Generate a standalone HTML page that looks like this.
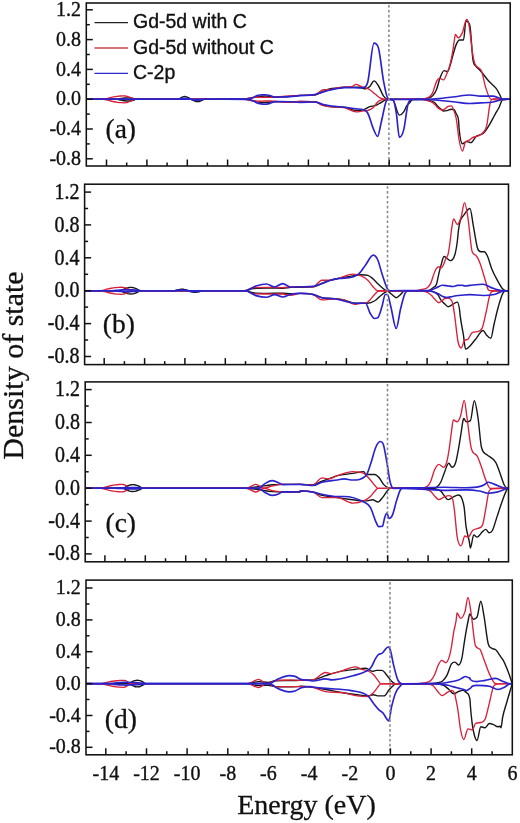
<!DOCTYPE html>
<html><head><meta charset="utf-8"><title>DOS</title>
<style>
html,body{margin:0;padding:0;background:#fff;}
svg{display:block;}
.tk{font-family:"Liberation Serif",serif;font-size:20px;fill:#111;stroke:#111;stroke-width:0.35px;}
.pl{font-family:"Liberation Serif",serif;font-size:27.5px;fill:#111;stroke:#111;stroke-width:0.3px;}
.ax{font-family:"Liberation Serif",serif;font-size:28px;fill:#111;stroke:#111;stroke-width:0.3px;}
.ax2{font-family:"Liberation Serif",serif;font-size:30px;fill:#111;stroke:#111;stroke-width:0.3px;}
.lg{font-family:"Liberation Sans",sans-serif;font-size:19.5px;fill:#111;stroke:#111;stroke-width:0.35px;}
</style></head><body>
<svg width="520" height="823" viewBox="0 0 520 823">
<path d="M86.30,99.20 C89.20,99.20 92.10,99.20 95.00,99.20 C102.33,99.20 109.67,99.20 117.00,99.20 C117.64,99.20 118.28,98.97 118.92,98.86 C119.56,98.75 120.19,98.65 120.83,98.55 C121.47,98.45 122.11,98.36 122.75,98.28 C123.39,98.20 124.03,98.13 124.67,98.07 C125.31,98.01 125.94,97.97 126.58,97.94 C127.22,97.91 127.86,97.90 128.50,97.90 C128.92,97.90 129.33,97.91 129.75,97.94 C130.17,97.97 130.58,98.01 131.00,98.07 C131.42,98.13 131.83,98.20 132.25,98.28 C132.67,98.36 133.08,98.45 133.50,98.55 C133.92,98.65 134.33,98.75 134.75,98.86 C135.17,98.97 135.58,99.20 136.00,99.20 C149.33,99.20 162.67,99.20 176.00,99.20 C177.00,99.20 178.00,99.20 179.00,99.20 C179.31,99.20 179.62,98.72 179.93,98.50 C180.24,98.27 180.56,98.05 180.87,97.85 C181.18,97.65 181.49,97.46 181.80,97.29 C182.11,97.13 182.42,96.98 182.73,96.86 C183.04,96.74 183.36,96.65 183.67,96.59 C183.98,96.53 184.29,96.50 184.60,96.50 C184.96,96.50 185.31,96.53 185.67,96.59 C186.02,96.65 186.38,96.74 186.73,96.86 C187.09,96.98 187.44,97.12 187.80,97.29 C188.16,97.45 188.51,97.65 188.87,97.85 C189.22,98.05 189.58,98.28 189.93,98.50 C190.29,98.73 190.64,99.20 191.00,99.20 C196.00,99.20 201.00,99.20 206.00,99.20 C219.00,99.20 232.00,99.20 245.00,99.00 C247.33,98.96 249.67,98.20 252.00,97.80 C254.33,97.40 256.67,96.92 259.00,96.60 C261.00,96.33 263.00,96.00 265.00,96.00 C267.00,96.00 269.00,96.67 271.00,96.80 C274.00,97.00 277.00,97.00 280.00,97.00 C283.33,97.00 286.67,96.67 290.00,96.40 C293.33,96.13 296.67,95.47 300.00,95.40 C304.93,95.29 309.87,95.38 314.80,95.00 C317.63,94.78 320.47,92.56 323.30,91.40 C325.40,90.54 327.50,89.43 329.60,88.90 C332.43,88.19 335.27,88.33 338.10,88.00 C340.20,87.76 342.30,87.20 344.40,87.20 C346.87,87.20 349.33,87.20 351.80,87.20 C354.27,87.20 356.73,87.20 359.20,87.20 C361.33,87.20 363.47,88.90 365.60,88.90 C367.00,88.90 368.40,87.93 369.80,86.60 C371.20,85.27 372.60,80.90 374.00,80.90 C375.43,80.90 376.87,83.30 378.30,85.50 C380.07,88.21 381.83,93.66 383.60,96.10 C385.00,98.03 386.40,99.30 387.80,99.30 C398.93,99.30 410.07,99.30 421.20,99.30 C422.13,99.30 423.07,99.30 424.00,99.20 C425.87,99.00 427.73,98.56 429.60,97.70 C430.77,97.16 431.93,96.78 433.10,95.40 C434.23,94.06 435.37,92.43 436.50,89.60 C437.67,86.69 438.83,81.11 440.00,78.10 C441.33,74.66 442.67,70.60 444.00,70.60 C445.17,70.60 446.33,71.70 447.50,71.70 C448.27,71.70 449.03,68.76 449.80,66.50 C450.97,63.06 452.13,57.77 453.30,53.80 C454.27,50.51 455.23,46.79 456.20,44.60 C457.33,42.04 458.47,40.00 459.60,40.00 C460.90,40.00 462.20,40.00 463.50,40.00 C464.33,40.00 465.17,21.00 466.00,21.00 C467.27,21.00 468.53,21.00 469.80,25.20 C470.87,28.74 471.93,53.87 473.00,60.10 C474.07,66.33 475.13,65.05 476.20,66.50 C477.60,68.40 479.00,69.13 480.40,70.70 C483.23,73.88 486.07,78.12 488.90,81.30 C491.37,84.07 493.83,85.36 496.30,88.70 C497.33,90.10 498.37,92.20 499.40,94.00 C500.40,95.74 501.40,99.30 502.40,99.30 C505.00,99.30 507.60,99.23 510.20,99.20" fill="none" stroke="#161616" stroke-width="1.4" stroke-linejoin="round"/>
<path d="M86.30,99.20 C89.20,99.20 92.10,99.20 95.00,99.20 C102.33,99.20 109.67,99.20 117.00,99.20 C117.64,99.20 118.28,99.52 118.92,99.67 C119.56,99.82 120.19,99.97 120.83,100.10 C121.47,100.23 122.11,100.36 122.75,100.47 C123.39,100.58 124.03,100.68 124.67,100.76 C125.31,100.84 125.94,100.90 126.58,100.94 C127.22,100.98 127.86,101.00 128.50,101.00 C128.92,101.00 129.33,100.98 129.75,100.94 C130.17,100.90 130.58,100.84 131.00,100.76 C131.42,100.68 131.83,100.58 132.25,100.47 C132.67,100.36 133.08,100.23 133.50,100.10 C133.92,99.97 134.33,99.82 134.75,99.67 C135.17,99.52 135.58,99.20 136.00,99.20 C149.33,99.20 162.67,99.20 176.00,99.20 C181.00,99.20 186.00,99.20 191.00,99.20 C191.37,99.20 191.75,99.62 192.12,99.82 C192.49,100.02 192.86,100.22 193.23,100.40 C193.60,100.58 193.98,100.75 194.35,100.90 C194.72,101.05 195.10,101.18 195.47,101.28 C195.84,101.38 196.21,101.47 196.58,101.52 C196.95,101.57 197.33,101.60 197.70,101.60 C198.05,101.60 198.40,101.57 198.75,101.52 C199.10,101.47 199.45,101.38 199.80,101.28 C200.15,101.18 200.50,101.05 200.85,100.90 C201.20,100.75 201.55,100.58 201.90,100.40 C202.25,100.22 202.60,100.02 202.95,99.82 C203.30,99.62 203.65,99.20 204.00,99.20 C204.67,99.20 205.33,99.20 206.00,99.20 C219.00,99.20 232.00,99.20 245.00,99.40 C247.33,99.44 249.67,100.17 252.00,100.60 C254.33,101.03 256.67,101.65 259.00,102.00 C261.00,102.30 263.00,102.60 265.00,102.60 C267.00,102.60 269.00,102.14 271.00,102.00 C274.00,101.78 277.00,101.60 280.00,101.60 C283.33,101.60 286.67,102.20 290.00,102.20 C293.33,102.20 296.67,101.40 300.00,101.40 C304.93,101.40 309.87,101.40 314.80,101.80 C317.63,102.03 320.47,104.18 323.30,105.00 C326.10,105.81 328.90,106.46 331.70,106.70 C335.93,107.07 340.17,106.83 344.40,107.30 C348.30,107.74 352.20,110.50 356.10,110.50 C358.57,110.50 361.03,110.50 363.50,109.80 C365.60,109.20 367.70,107.43 369.80,106.70 C371.57,106.08 373.33,106.22 375.10,105.60 C376.50,105.10 377.90,104.24 379.30,103.50 C381.43,102.37 383.57,100.70 385.70,99.90 C386.77,99.50 387.83,99.30 388.90,99.30 C390.30,99.30 391.70,99.30 393.10,100.30 C395.20,101.80 397.30,115.10 399.40,115.10 C400.83,115.10 402.27,113.89 403.70,111.90 C404.73,110.47 405.77,107.17 406.80,105.60 C407.87,103.98 408.93,103.51 410.00,102.40 C410.90,101.47 411.80,99.55 412.70,99.50 C416.47,99.30 420.23,99.30 424.00,99.30 C425.87,99.30 427.73,100.04 429.60,100.60 C431.13,101.06 432.67,101.14 434.20,102.30 C435.37,103.18 436.53,105.15 437.70,106.30 C438.87,107.45 440.03,108.26 441.20,109.20 C441.97,109.82 442.73,111.00 443.50,111.00 C444.63,111.00 445.77,110.84 446.90,110.60 C448.43,110.28 449.97,109.20 451.50,109.20 C452.47,109.20 453.43,109.20 454.40,109.80 C455.00,110.17 455.60,112.44 456.20,113.80 C456.97,115.54 457.73,114.05 458.50,120.00 C458.73,121.81 458.97,127.75 459.20,129.90 C460.27,139.74 461.33,143.70 462.40,143.70 C463.80,143.70 465.20,141.60 466.60,141.60 C468.03,141.60 469.47,142.60 470.90,142.60 C472.67,142.60 474.43,137.73 476.20,136.30 C478.67,134.30 481.13,135.36 483.60,133.10 C485.37,131.48 487.13,128.56 488.90,125.70 C491.00,122.30 493.10,117.88 495.20,114.10 C496.60,111.58 498.00,109.52 499.40,106.70 C500.40,104.69 501.40,100.17 502.40,99.90 C505.00,99.20 507.60,99.25 510.20,99.20" fill="none" stroke="#161616" stroke-width="1.4" stroke-linejoin="round"/>
<path d="M86.30,99.20 C89.20,99.20 92.10,99.20 95.00,99.20 C98.00,99.20 101.00,99.20 104.00,99.20 C105.09,99.20 106.18,98.63 107.27,98.35 C108.36,98.08 109.44,97.80 110.53,97.55 C111.62,97.30 112.71,97.07 113.80,96.87 C114.89,96.67 115.98,96.48 117.07,96.34 C118.16,96.20 119.24,96.08 120.33,96.01 C121.42,95.94 122.51,95.90 123.60,95.90 C124.18,95.90 124.75,95.94 125.33,96.01 C125.91,96.08 126.49,96.20 127.07,96.34 C127.65,96.48 128.22,96.67 128.80,96.87 C129.38,97.07 129.95,97.30 130.53,97.55 C131.11,97.80 131.69,98.07 132.27,98.35 C132.85,98.62 133.42,99.20 134.00,99.20 C148.00,99.20 162.00,99.20 176.00,99.20 C186.00,99.20 196.00,99.20 206.00,99.20 C219.00,99.20 232.00,99.20 245.00,99.00 C247.33,98.96 249.67,97.90 252.00,97.60 C254.33,97.30 256.67,97.20 259.00,97.20 C261.00,97.20 263.00,97.40 265.00,97.40 C267.00,97.40 269.00,97.40 271.00,97.40 C274.00,97.40 277.00,96.82 280.00,96.60 C283.33,96.35 286.67,96.20 290.00,96.00 C293.33,95.80 296.67,95.44 300.00,95.40 C304.93,95.35 309.87,95.40 314.80,95.00 C317.63,94.77 320.47,89.70 323.30,89.70 C325.40,89.70 327.50,89.70 329.60,89.70 C332.43,89.70 335.27,88.04 338.10,87.60 C340.20,87.27 342.30,87.32 344.40,87.20 C346.87,87.06 349.33,87.18 351.80,86.60 C353.23,86.26 354.67,84.40 356.10,84.40 C357.83,84.40 359.57,86.03 361.30,86.60 C362.73,87.07 364.17,87.07 365.60,87.60 C367.00,88.11 368.40,88.78 369.80,89.70 C371.57,90.86 373.33,92.58 375.10,94.00 C376.87,95.42 378.63,97.35 380.40,98.20 C382.50,99.22 384.60,99.30 386.70,99.30 C397.13,99.30 407.57,99.30 418.00,99.20 C419.93,99.18 421.87,99.18 423.80,98.80 C425.53,98.46 427.27,98.37 429.00,97.10 C430.17,96.24 431.33,95.52 432.50,93.10 C433.27,91.51 434.03,88.32 434.80,86.20 C435.57,84.08 436.33,81.75 437.10,80.40 C437.87,79.05 438.63,78.10 439.40,78.10 C440.77,78.10 442.13,79.80 443.50,79.80 C444.63,79.80 445.77,76.03 446.90,73.50 C447.50,72.16 448.10,70.59 448.70,68.80 C449.27,67.11 449.83,65.48 450.40,63.10 C451.17,59.88 451.93,56.03 452.70,51.50 C453.27,48.15 453.83,43.53 454.40,40.00 C454.73,37.92 455.07,34.30 455.40,34.30 C456.33,34.30 457.27,37.90 458.20,37.90 C459.60,37.90 461.00,35.67 462.40,32.60 C463.80,29.53 465.20,19.50 466.60,19.50 C467.33,19.50 468.07,20.65 468.80,24.20 C470.20,30.98 471.60,47.82 473.00,55.90 C473.70,59.94 474.40,62.78 475.10,64.30 C477.20,68.86 479.30,66.21 481.40,70.70 C482.83,73.77 484.27,83.20 485.70,87.60 C487.47,93.02 489.23,99.30 491.00,99.30 C492.77,99.30 494.53,98.60 496.30,98.60 C497.70,98.60 499.10,99.50 500.50,99.50 C503.73,99.50 506.97,99.30 510.20,99.20" fill="none" stroke="#d8203a" stroke-width="1.35" stroke-linejoin="round"/>
<path d="M86.30,99.20 C89.20,99.20 92.10,99.20 95.00,99.20 C98.00,99.20 101.00,99.20 104.00,99.20 C105.14,99.20 106.28,99.83 107.42,100.13 C108.56,100.43 109.69,100.73 110.83,101.00 C111.97,101.27 113.11,101.53 114.25,101.75 C115.39,101.97 116.53,102.16 117.67,102.32 C118.81,102.47 119.94,102.60 121.08,102.68 C122.22,102.76 123.36,102.80 124.50,102.80 C125.03,102.80 125.55,102.76 126.08,102.68 C126.61,102.60 127.14,102.48 127.67,102.32 C128.20,102.17 128.72,101.97 129.25,101.75 C129.78,101.53 130.30,101.27 130.83,101.00 C131.36,100.73 131.89,100.43 132.42,100.13 C132.95,99.83 133.47,99.20 134.00,99.20 C148.00,99.20 162.00,99.20 176.00,99.20 C186.00,99.20 196.00,99.20 206.00,99.20 C219.00,99.20 232.00,99.20 245.00,99.40 C247.33,99.44 249.67,100.50 252.00,100.80 C254.33,101.10 256.67,101.20 259.00,101.20 C261.00,101.20 263.00,101.00 265.00,101.00 C267.00,101.00 269.00,101.00 271.00,101.00 C274.00,101.00 277.00,101.58 280.00,101.80 C283.33,102.05 286.67,102.40 290.00,102.40 C293.33,102.40 296.67,101.40 300.00,101.40 C304.93,101.40 309.87,101.40 314.80,101.80 C317.63,102.03 320.47,104.78 323.30,105.60 C326.10,106.41 328.90,106.41 331.70,106.70 C335.93,107.13 340.17,106.80 344.40,107.70 C348.30,108.53 352.20,111.90 356.10,111.90 C358.57,111.90 361.03,111.14 363.50,110.90 C364.90,110.76 366.30,110.88 367.70,110.50 C369.47,110.03 371.23,109.28 373.00,107.70 C374.40,106.45 375.80,103.70 377.20,102.40 C378.60,101.10 380.00,100.38 381.40,99.90 C383.17,99.30 384.93,99.30 386.70,99.30 C397.80,99.30 408.90,99.30 420.00,99.30 C422.43,99.30 424.87,100.00 427.30,100.60 C428.47,100.89 429.63,101.09 430.80,101.70 C432.13,102.39 433.47,103.45 434.80,104.60 C435.97,105.61 437.13,107.22 438.30,108.10 C439.43,108.95 440.57,109.80 441.70,109.80 C442.67,109.80 443.63,109.70 444.60,109.20 C445.77,108.60 446.93,106.81 448.10,106.30 C449.23,105.80 450.37,105.80 451.50,105.80 C452.27,105.80 453.03,108.34 453.80,110.40 C454.60,112.55 455.40,114.22 456.20,118.50 C457.20,123.85 458.20,135.18 459.20,140.50 C460.27,146.18 461.33,151.10 462.40,151.10 C463.47,151.10 464.53,142.64 465.60,141.60 C466.67,140.56 467.73,140.85 468.80,140.50 C470.20,140.04 471.60,138.00 473.00,137.30 C474.40,136.60 475.80,136.94 477.20,136.30 C479.33,135.33 481.47,134.88 483.60,132.00 C484.63,130.60 485.67,130.17 486.70,125.70 C487.77,121.08 488.83,109.35 489.90,104.50 C490.60,101.31 491.30,99.30 492.00,99.30 C493.43,99.30 494.87,99.90 496.30,99.90 C497.70,99.90 499.10,99.34 500.50,99.30 C503.73,99.20 506.97,99.21 510.20,99.20" fill="none" stroke="#d8203a" stroke-width="1.35" stroke-linejoin="round"/>
<path d="M86.30,99.20 C89.20,99.20 92.10,99.20 95.00,99.20 C122.00,99.20 149.00,99.20 176.00,99.20 C177.00,99.20 178.00,99.20 179.00,99.20 C179.31,99.20 179.62,99.04 179.93,98.97 C180.24,98.89 180.56,98.82 180.87,98.75 C181.18,98.68 181.49,98.62 181.80,98.56 C182.11,98.51 182.42,98.46 182.73,98.42 C183.04,98.38 183.36,98.35 183.67,98.33 C183.98,98.31 184.29,98.30 184.60,98.30 C184.96,98.30 185.31,98.31 185.67,98.33 C186.02,98.35 186.38,98.38 186.73,98.42 C187.09,98.46 187.44,98.50 187.80,98.56 C188.16,98.61 188.51,98.68 188.87,98.75 C189.22,98.82 189.58,98.90 189.93,98.97 C190.29,99.05 190.64,99.20 191.00,99.20 C196.00,99.20 201.00,99.20 206.00,99.20 C219.00,99.20 232.00,99.00 245.00,99.00 C246.00,99.00 247.00,99.10 248.00,99.10 C249.67,99.10 251.33,98.27 253.00,97.60 C254.33,97.07 255.67,96.05 257.00,95.60 C258.33,95.15 259.67,95.05 261.00,94.90 C262.33,94.75 263.67,94.70 265.00,94.70 C266.33,94.70 267.67,94.85 269.00,95.20 C270.00,95.46 271.00,96.07 272.00,96.40 C273.00,96.73 274.00,97.20 275.00,97.20 C276.67,97.20 278.33,97.07 280.00,97.00 C283.33,96.87 286.67,96.83 290.00,96.60 C293.33,96.37 296.67,95.87 300.00,95.60 C304.93,95.20 309.87,95.52 314.80,94.60 C317.63,94.07 320.47,92.72 323.30,91.90 C326.10,91.09 328.90,90.30 331.70,89.70 C335.93,88.80 340.17,87.60 344.40,87.60 C346.87,87.60 349.33,87.60 351.80,87.60 C354.27,87.60 356.73,88.00 359.20,88.00 C360.63,88.00 362.07,88.00 363.50,87.60 C364.90,87.21 366.30,87.53 367.70,82.30 C369.80,74.46 371.90,43.20 374.00,43.20 C375.43,43.20 376.87,43.20 378.30,47.40 C380.07,52.58 381.83,72.10 383.60,81.30 C385.00,88.59 386.40,96.76 387.80,98.20 C388.87,99.30 389.93,99.30 391.00,99.30 C403.17,99.30 415.33,99.30 427.50,99.30 C432.43,99.30 437.37,98.67 442.30,98.20 C446.53,97.79 450.77,97.19 455.00,96.70 C459.93,96.13 464.87,95.00 469.80,95.00 C473.33,95.00 476.87,96.10 480.40,96.10 C484.63,96.10 488.87,96.10 493.10,96.10 C496.63,96.10 500.17,99.30 503.70,99.30 C505.87,99.30 508.03,99.23 510.20,99.20" fill="none" stroke="#2a22cc" stroke-width="1.65" stroke-linejoin="round"/>
<path d="M86.30,99.20 C89.20,99.20 92.10,99.20 95.00,99.20 C122.00,99.20 149.00,99.20 176.00,99.20 C181.00,99.20 186.00,99.20 191.00,99.20 C191.37,99.20 191.75,99.39 192.12,99.48 C192.49,99.57 192.86,99.67 193.23,99.75 C193.60,99.83 193.98,99.91 194.35,99.98 C194.72,100.05 195.10,100.10 195.47,100.15 C195.84,100.20 196.21,100.24 196.58,100.26 C196.95,100.29 197.33,100.30 197.70,100.30 C198.05,100.30 198.40,100.28 198.75,100.26 C199.10,100.24 199.45,100.20 199.80,100.15 C200.15,100.10 200.50,100.05 200.85,99.98 C201.20,99.91 201.55,99.83 201.90,99.75 C202.25,99.67 202.60,99.57 202.95,99.48 C203.30,99.39 203.65,99.20 204.00,99.20 C204.67,99.20 205.33,99.20 206.00,99.20 C219.00,99.20 232.00,99.40 245.00,99.40 C246.00,99.40 247.00,99.30 248.00,99.30 C249.67,99.30 251.33,100.11 253.00,100.80 C254.33,101.35 255.67,102.38 257.00,102.90 C258.33,103.42 259.67,103.68 261.00,103.90 C262.33,104.12 263.67,104.20 265.00,104.20 C266.33,104.20 267.67,103.97 269.00,103.60 C270.00,103.32 271.00,102.73 272.00,102.40 C273.00,102.07 274.00,101.60 275.00,101.60 C276.67,101.60 278.33,101.60 280.00,101.60 C283.33,101.60 286.67,101.68 290.00,101.80 C293.33,101.92 296.67,102.30 300.00,102.30 C304.93,102.30 309.87,102.00 314.80,102.00 C317.63,102.00 320.47,103.83 323.30,104.50 C326.10,105.16 328.90,105.61 331.70,106.00 C335.93,106.59 340.17,106.81 344.40,107.30 C348.30,107.75 352.20,108.35 356.10,108.80 C358.57,109.08 361.03,108.84 363.50,109.80 C364.90,110.34 366.30,110.51 367.70,113.00 C369.47,116.14 371.23,123.70 373.00,127.80 C374.53,131.36 376.07,136.30 377.60,136.30 C378.87,136.30 380.13,126.50 381.40,121.50 C383.17,114.53 384.93,102.71 386.70,100.30 C387.43,99.30 388.17,99.30 388.90,99.30 C390.30,99.30 391.70,99.30 393.10,99.90 C394.17,100.36 395.23,106.64 396.30,113.00 C397.33,119.17 398.37,137.30 399.40,137.30 C400.83,137.30 402.27,135.47 403.70,129.90 C405.10,124.46 406.50,110.13 407.90,104.50 C408.60,101.68 409.30,100.92 410.00,100.30 C410.90,99.50 411.80,99.50 412.70,99.50 C417.63,99.50 422.57,99.50 427.50,99.50 C432.43,99.50 437.37,100.25 442.30,100.70 C446.53,101.09 450.77,101.57 455.00,102.00 C459.93,102.50 464.87,103.50 469.80,103.50 C473.33,103.50 476.87,103.13 480.40,102.90 C484.63,102.63 488.87,102.69 493.10,102.00 C496.63,101.42 500.17,99.46 503.70,99.30 C505.87,99.20 508.03,99.21 510.20,99.20" fill="none" stroke="#2a22cc" stroke-width="1.65" stroke-linejoin="round"/>
<line x1="388.9" y1="5.0" x2="388.9" y2="165.0" stroke="#8a8a8a" stroke-width="1.6" stroke-dasharray="2.6 2.3"/>
<rect x="86.3" y="3.0" width="423.9" height="163.0" fill="none" stroke="#111" stroke-width="1.55"/>
<line x1="106.5" y1="166.0" x2="106.5" y2="159.5" stroke="#111" stroke-width="1.5"/>
<line x1="126.7" y1="166.0" x2="126.7" y2="162.5" stroke="#111" stroke-width="1.5"/>
<line x1="146.9" y1="166.0" x2="146.9" y2="159.5" stroke="#111" stroke-width="1.5"/>
<line x1="167.1" y1="166.0" x2="167.1" y2="162.5" stroke="#111" stroke-width="1.5"/>
<line x1="187.3" y1="166.0" x2="187.3" y2="159.5" stroke="#111" stroke-width="1.5"/>
<line x1="207.4" y1="166.0" x2="207.4" y2="162.5" stroke="#111" stroke-width="1.5"/>
<line x1="227.6" y1="166.0" x2="227.6" y2="159.5" stroke="#111" stroke-width="1.5"/>
<line x1="247.8" y1="166.0" x2="247.8" y2="162.5" stroke="#111" stroke-width="1.5"/>
<line x1="268.0" y1="166.0" x2="268.0" y2="159.5" stroke="#111" stroke-width="1.5"/>
<line x1="288.2" y1="166.0" x2="288.2" y2="162.5" stroke="#111" stroke-width="1.5"/>
<line x1="308.4" y1="166.0" x2="308.4" y2="159.5" stroke="#111" stroke-width="1.5"/>
<line x1="328.6" y1="166.0" x2="328.6" y2="162.5" stroke="#111" stroke-width="1.5"/>
<line x1="348.8" y1="166.0" x2="348.8" y2="159.5" stroke="#111" stroke-width="1.5"/>
<line x1="369.0" y1="166.0" x2="369.0" y2="162.5" stroke="#111" stroke-width="1.5"/>
<line x1="389.2" y1="166.0" x2="389.2" y2="159.5" stroke="#111" stroke-width="1.5"/>
<line x1="409.4" y1="166.0" x2="409.4" y2="162.5" stroke="#111" stroke-width="1.5"/>
<line x1="429.5" y1="166.0" x2="429.5" y2="159.5" stroke="#111" stroke-width="1.5"/>
<line x1="449.7" y1="166.0" x2="449.7" y2="162.5" stroke="#111" stroke-width="1.5"/>
<line x1="469.9" y1="166.0" x2="469.9" y2="159.5" stroke="#111" stroke-width="1.5"/>
<line x1="490.1" y1="166.0" x2="490.1" y2="162.5" stroke="#111" stroke-width="1.5"/>
<line x1="86.3" y1="158.8" x2="92.8" y2="158.8" stroke="#111" stroke-width="1.5"/>
<text transform="translate(81.1,164.94) scale(1,1.1)" text-anchor="end" class="tk">-0.8</text>
<line x1="86.3" y1="143.9" x2="89.8" y2="143.9" stroke="#111" stroke-width="1.5"/>
<line x1="86.3" y1="129.0" x2="92.8" y2="129.0" stroke="#111" stroke-width="1.5"/>
<text transform="translate(81.1,135.14) scale(1,1.1)" text-anchor="end" class="tk">-0.4</text>
<line x1="86.3" y1="114.1" x2="89.8" y2="114.1" stroke="#111" stroke-width="1.5"/>
<line x1="86.3" y1="99.2" x2="92.8" y2="99.2" stroke="#111" stroke-width="1.5"/>
<text transform="translate(81.1,105.34) scale(1,1.1)" text-anchor="end" class="tk">0.0</text>
<line x1="86.3" y1="84.3" x2="89.8" y2="84.3" stroke="#111" stroke-width="1.5"/>
<line x1="86.3" y1="69.4" x2="92.8" y2="69.4" stroke="#111" stroke-width="1.5"/>
<text transform="translate(81.1,75.54) scale(1,1.1)" text-anchor="end" class="tk">0.4</text>
<line x1="86.3" y1="54.5" x2="89.8" y2="54.5" stroke="#111" stroke-width="1.5"/>
<line x1="86.3" y1="39.6" x2="92.8" y2="39.6" stroke="#111" stroke-width="1.5"/>
<text transform="translate(81.1,45.74) scale(1,1.1)" text-anchor="end" class="tk">0.8</text>
<line x1="86.3" y1="24.7" x2="89.8" y2="24.7" stroke="#111" stroke-width="1.5"/>
<line x1="86.3" y1="9.8" x2="92.8" y2="9.8" stroke="#111" stroke-width="1.5"/>
<text transform="translate(81.1,15.94) scale(1,1.1)" text-anchor="end" class="tk">1.2</text>
<text x="105.5" y="138" class="pl">(a)</text>
<path d="M84.60,290.70 C88.07,290.70 91.53,290.70 95.00,290.70 C103.50,290.70 112.00,290.70 120.50,290.70 C121.08,290.70 121.67,290.12 122.25,289.85 C122.83,289.58 123.42,289.30 124.00,289.05 C124.58,288.80 125.17,288.57 125.75,288.37 C126.33,288.17 126.92,287.98 127.50,287.84 C128.08,287.70 128.67,287.58 129.25,287.51 C129.83,287.44 130.42,287.40 131.00,287.40 C131.50,287.40 132.00,287.44 132.50,287.51 C133.00,287.58 133.50,287.70 134.00,287.84 C134.50,287.98 135.00,288.17 135.50,288.37 C136.00,288.57 136.50,288.80 137.00,289.05 C137.50,289.30 138.00,289.58 138.50,289.85 C139.00,290.12 139.50,290.70 140.00,290.70 C150.67,290.70 161.33,290.70 172.00,290.70 C172.87,290.70 173.73,290.70 174.60,290.70 C175.03,290.70 175.45,290.43 175.88,290.31 C176.31,290.18 176.74,290.06 177.17,289.95 C177.60,289.84 178.02,289.73 178.45,289.64 C178.88,289.55 179.30,289.46 179.73,289.40 C180.16,289.33 180.59,289.28 181.02,289.25 C181.45,289.22 181.87,289.20 182.30,289.20 C182.64,289.20 182.99,289.22 183.33,289.25 C183.68,289.28 184.02,289.33 184.37,289.40 C184.71,289.46 185.06,289.55 185.40,289.64 C185.74,289.73 186.09,289.84 186.43,289.95 C186.78,290.06 187.12,290.18 187.47,290.31 C187.81,290.43 188.16,290.70 188.50,290.70 C194.33,290.70 200.17,290.70 206.00,290.70 C219.00,290.70 232.00,290.70 245.00,290.70 C247.67,290.70 250.33,288.96 253.00,288.60 C257.50,288.00 262.00,288.00 266.50,288.00 C271.90,288.00 277.30,288.20 282.70,288.20 C285.47,288.20 288.23,287.56 291.00,287.40 C294.00,287.22 297.00,287.24 300.00,287.20 C304.37,287.15 308.73,287.20 313.10,286.80 C316.03,286.53 318.97,284.61 321.90,283.50 C324.80,282.41 327.70,281.10 330.60,280.20 C333.53,279.29 336.47,278.70 339.40,278.10 C343.77,277.21 348.13,276.54 352.50,275.90 C355.40,275.47 358.30,274.80 361.20,274.80 C363.40,274.80 365.60,274.80 367.80,275.40 C369.27,275.80 370.73,276.92 372.20,278.10 C374.37,279.85 376.53,282.61 378.70,284.60 C380.90,286.62 383.10,288.88 385.30,290.10 C386.03,290.51 386.77,290.70 387.50,290.70 C401.00,290.70 414.50,290.70 428.00,290.70 C429.70,290.70 431.40,289.07 433.10,287.70 C434.23,286.78 435.37,287.35 436.50,284.20 C437.27,282.07 438.03,277.00 438.80,273.80 C439.60,270.46 440.40,267.29 441.20,264.60 C442.13,261.46 443.07,256.50 444.00,256.50 C444.97,256.50 445.93,257.68 446.90,258.30 C448.07,259.05 449.23,260.60 450.40,260.60 C451.93,260.60 453.47,259.50 455.00,254.20 C455.77,251.55 456.53,247.29 457.30,241.50 C457.70,238.48 458.10,233.02 458.50,230.00 C459.03,225.98 459.57,223.11 460.10,221.20 C461.20,217.26 462.30,217.22 463.40,215.70 C465.60,212.67 467.80,208.50 470.00,208.50 C471.10,208.50 472.20,219.82 473.30,225.60 C474.73,233.13 476.17,244.20 477.60,248.50 C478.70,251.80 479.80,251.80 480.90,251.80 C482.00,251.80 483.10,251.80 484.20,251.80 C485.30,251.80 486.40,253.83 487.50,256.20 C488.97,259.36 490.43,265.64 491.90,269.30 C493.70,273.80 495.50,276.94 497.30,280.20 C499.13,283.52 500.97,287.06 502.80,289.00 C503.90,290.16 505.00,290.70 506.10,290.70 C506.80,290.70 507.50,290.70 508.20,290.70" fill="none" stroke="#161616" stroke-width="1.4" stroke-linejoin="round"/>
<path d="M84.60,290.70 C88.07,290.70 91.53,290.70 95.00,290.70 C103.50,290.70 112.00,290.70 120.50,290.70 C121.08,290.70 121.67,291.27 122.25,291.55 C122.83,291.83 123.42,292.10 124.00,292.35 C124.58,292.60 125.17,292.83 125.75,293.03 C126.33,293.23 126.92,293.42 127.50,293.56 C128.08,293.70 128.67,293.82 129.25,293.89 C129.83,293.96 130.42,294.00 131.00,294.00 C131.50,294.00 132.00,293.96 132.50,293.89 C133.00,293.82 133.50,293.70 134.00,293.56 C134.50,293.42 135.00,293.23 135.50,293.03 C136.00,292.83 136.50,292.60 137.00,292.35 C137.50,292.10 138.00,291.83 138.50,291.55 C139.00,291.27 139.50,290.70 140.00,290.70 C150.67,290.70 161.33,290.70 172.00,290.70 C177.50,290.70 183.00,290.70 188.50,290.70 C188.84,290.70 189.18,291.00 189.52,291.14 C189.86,291.28 190.19,291.42 190.53,291.55 C190.87,291.68 191.21,291.80 191.55,291.90 C191.89,292.00 192.23,292.10 192.57,292.17 C192.91,292.24 193.24,292.30 193.58,292.34 C193.92,292.38 194.26,292.40 194.60,292.40 C195.03,292.40 195.45,292.38 195.88,292.34 C196.31,292.30 196.74,292.24 197.17,292.17 C197.60,292.10 198.02,292.00 198.45,291.90 C198.88,291.80 199.30,291.68 199.73,291.55 C200.16,291.42 200.59,291.28 201.02,291.14 C201.45,291.00 201.87,290.70 202.30,290.70 C203.53,290.70 204.77,290.70 206.00,290.70 C219.00,290.70 232.00,290.70 245.00,290.70 C247.67,290.70 250.33,292.44 253.00,292.80 C257.50,293.40 262.00,293.40 266.50,293.40 C271.90,293.40 277.30,293.20 282.70,293.20 C285.47,293.20 288.23,293.80 291.00,293.80 C294.00,293.80 297.00,293.40 300.00,293.40 C304.37,293.40 308.73,293.52 313.10,294.50 C316.03,295.16 318.97,297.04 321.90,297.70 C326.27,298.68 330.63,298.34 335.00,298.80 C337.90,299.11 340.80,299.28 343.70,299.90 C347.37,300.68 351.03,303.20 354.70,303.20 C356.87,303.20 359.03,303.20 361.20,303.20 C363.40,303.20 365.60,303.20 367.80,303.20 C370.00,303.20 372.20,302.30 374.40,301.00 C376.57,299.72 378.73,297.12 380.90,295.50 C383.10,293.85 385.30,291.20 387.50,291.20 C388.97,291.20 390.43,293.40 391.90,294.50 C393.33,295.57 394.77,297.70 396.20,297.70 C397.67,297.70 399.13,295.77 400.60,294.50 C401.70,293.55 402.80,291.70 403.90,291.20 C405.00,290.70 406.10,290.70 407.20,290.70 C414.13,290.70 421.07,290.70 428.00,290.70 C429.70,290.70 431.40,291.00 433.10,291.70 C434.63,292.33 436.17,292.85 437.70,294.60 C438.87,295.93 440.03,298.85 441.20,300.40 C442.33,301.91 443.47,302.76 444.60,303.80 C445.77,304.87 446.93,306.70 448.10,306.70 C449.63,306.70 451.17,305.17 452.70,304.40 C454.23,303.63 455.77,302.10 457.30,302.10 C458.07,302.10 458.83,304.70 459.60,310.00 C459.77,311.15 459.93,313.84 460.10,315.20 C461.20,324.20 462.30,328.07 463.40,334.90 C464.13,339.46 464.87,349.10 465.60,349.10 C467.07,349.10 468.53,347.31 470.00,345.90 C471.83,344.13 473.67,341.46 475.50,339.30 C478.03,336.31 480.57,330.50 483.10,330.50 C484.20,330.50 485.30,333.75 486.40,334.90 C487.87,336.43 489.33,338.20 490.80,338.20 C491.90,338.20 493.00,328.61 494.10,324.00 C495.53,318.00 496.97,311.55 498.40,306.50 C499.87,301.33 501.33,296.18 502.80,293.40 C503.90,291.31 505.00,290.70 506.10,290.70 C506.80,290.70 507.50,290.70 508.20,290.70" fill="none" stroke="#161616" stroke-width="1.4" stroke-linejoin="round"/>
<path d="M84.60,290.70 C88.07,290.70 91.53,290.70 95.00,290.70 C97.10,290.70 99.20,290.70 101.30,290.70 C102.42,290.70 103.55,290.08 104.67,289.79 C105.79,289.50 106.91,289.21 108.03,288.95 C109.15,288.69 110.28,288.44 111.40,288.23 C112.52,288.02 113.65,287.82 114.77,287.67 C115.89,287.52 117.01,287.40 118.13,287.32 C119.25,287.24 120.38,287.20 121.50,287.20 C122.03,287.20 122.55,287.24 123.08,287.32 C123.61,287.40 124.14,287.52 124.67,287.67 C125.20,287.82 125.72,288.02 126.25,288.23 C126.78,288.44 127.30,288.69 127.83,288.95 C128.36,289.21 128.89,289.50 129.42,289.79 C129.95,290.08 130.47,290.70 131.00,290.70 C144.67,290.70 158.33,290.70 172.00,290.70 C183.33,290.70 194.67,290.70 206.00,290.70 C219.00,290.70 232.00,290.70 245.00,290.70 C247.67,290.70 250.33,287.72 253.00,287.60 C257.50,287.40 262.00,287.40 266.50,287.40 C271.90,287.40 277.30,287.60 282.70,287.60 C285.47,287.60 288.23,286.60 291.00,286.60 C294.00,286.60 297.00,286.80 300.00,286.80 C304.37,286.80 308.73,286.80 313.10,286.80 C316.03,286.80 318.97,280.20 321.90,280.20 C324.80,280.20 327.70,280.20 330.60,280.20 C333.53,280.20 336.47,278.90 339.40,278.10 C343.77,276.91 348.13,274.10 352.50,274.10 C355.40,274.10 358.30,274.66 361.20,275.90 C363.40,276.84 365.60,278.11 367.80,280.20 C369.27,281.59 370.73,284.10 372.20,285.70 C374.00,287.66 375.80,290.70 377.60,290.70 C390.40,290.70 403.20,290.70 416.00,290.70 C417.83,290.70 419.67,289.89 421.50,289.40 C423.43,288.89 425.37,289.25 427.30,287.70 C428.47,286.76 429.63,285.62 430.80,283.10 C431.57,281.45 432.33,278.28 433.10,276.20 C434.07,273.58 435.03,270.80 436.00,269.20 C436.93,267.66 437.87,266.70 438.80,266.70 C439.60,266.70 440.40,268.10 441.20,268.10 C441.97,268.10 442.73,266.15 443.50,264.60 C444.27,263.05 445.03,260.53 445.80,258.80 C446.57,257.07 447.33,257.31 448.10,254.20 C448.67,251.90 449.23,247.83 449.80,243.80 C450.37,239.77 450.93,233.78 451.50,230.00 C452.20,225.33 452.90,219.00 453.60,219.00 C454.83,219.00 456.07,224.50 457.30,224.50 C458.60,224.50 459.90,220.88 461.20,216.80 C462.30,213.35 463.40,202.60 464.50,202.60 C465.60,202.60 466.70,210.06 467.80,216.80 C469.27,225.79 470.73,247.60 472.20,251.80 C473.30,254.95 474.40,254.13 475.50,255.10 C476.93,256.37 478.37,259.15 479.80,262.70 C481.63,267.24 483.47,274.53 485.30,280.20 C486.40,283.60 487.50,289.50 488.60,290.10 C489.70,290.70 490.80,290.70 491.90,290.70 C497.33,290.70 502.77,290.70 508.20,290.70" fill="none" stroke="#d8203a" stroke-width="1.35" stroke-linejoin="round"/>
<path d="M84.60,290.70 C88.07,290.70 91.53,290.70 95.00,290.70 C97.10,290.70 99.20,290.70 101.30,290.70 C102.42,290.70 103.55,291.33 104.67,291.63 C105.79,291.93 106.91,292.23 108.03,292.50 C109.15,292.77 110.28,293.03 111.40,293.25 C112.52,293.47 113.65,293.66 114.77,293.82 C115.89,293.97 117.01,294.10 118.13,294.18 C119.25,294.26 120.38,294.30 121.50,294.30 C122.03,294.30 122.55,294.26 123.08,294.18 C123.61,294.10 124.14,293.98 124.67,293.82 C125.20,293.67 125.72,293.47 126.25,293.25 C126.78,293.03 127.30,292.77 127.83,292.50 C128.36,292.23 128.89,291.93 129.42,291.63 C129.95,291.33 130.47,290.70 131.00,290.70 C144.67,290.70 158.33,290.70 172.00,290.70 C183.33,290.70 194.67,290.70 206.00,290.70 C219.00,290.70 232.00,290.70 245.00,290.70 C247.67,290.70 250.33,293.68 253.00,293.80 C257.50,294.00 262.00,294.00 266.50,294.00 C271.90,294.00 277.30,294.00 282.70,294.00 C285.47,294.00 288.23,295.20 291.00,295.20 C294.00,295.20 297.00,293.40 300.00,293.40 C304.37,293.40 308.73,293.40 313.10,294.50 C316.03,295.24 318.97,299.90 321.90,299.90 C326.27,299.90 330.63,298.80 335.00,298.80 C337.90,298.80 340.80,299.14 343.70,299.90 C347.37,300.87 351.03,304.30 354.70,304.30 C356.87,304.30 359.03,303.20 361.20,303.20 C362.67,303.20 364.13,303.20 365.60,303.20 C367.07,303.20 368.53,301.32 370.00,299.90 C371.83,298.13 373.67,295.11 375.50,293.40 C376.57,292.40 377.63,291.24 378.70,291.20 C391.13,290.70 403.57,290.70 416.00,290.70 C417.83,290.70 419.67,290.94 421.50,291.20 C423.43,291.47 425.37,291.42 427.30,292.30 C428.63,292.91 429.97,293.95 431.30,295.20 C432.47,296.29 433.63,298.02 434.80,299.20 C436.13,300.55 437.47,302.70 438.80,302.70 C439.60,302.70 440.40,302.03 441.20,301.50 C442.33,300.75 443.47,299.26 444.60,298.70 C445.77,298.12 446.93,298.10 448.10,298.10 C449.23,298.10 450.37,298.45 451.50,300.40 C451.93,301.15 452.37,302.08 452.80,304.00 C453.40,306.66 454.00,310.83 454.60,315.00 C455.73,322.88 456.87,335.93 458.00,341.50 C459.07,346.74 460.13,348.00 461.20,348.00 C462.30,348.00 463.40,341.30 464.50,340.40 C465.60,339.50 466.70,339.93 467.80,339.30 C469.27,338.46 470.73,333.49 472.20,332.70 C474.00,331.73 475.80,332.09 477.60,331.60 C479.07,331.20 480.53,331.58 482.00,328.40 C483.47,325.22 484.93,317.24 486.40,310.90 C487.50,306.15 488.60,298.78 489.70,295.50 C490.80,292.22 491.90,291.31 493.00,291.20 C498.07,290.70 503.13,290.72 508.20,290.70" fill="none" stroke="#d8203a" stroke-width="1.35" stroke-linejoin="round"/>
<path d="M84.60,290.70 C88.07,290.70 91.53,290.70 95.00,290.70 C100.67,290.70 106.33,290.70 112.00,290.70 C112.89,290.70 113.78,290.55 114.67,290.47 C115.56,290.40 116.44,290.32 117.33,290.25 C118.22,290.18 119.11,290.12 120.00,290.06 C120.89,290.00 121.78,289.96 122.67,289.92 C123.56,289.88 124.44,289.85 125.33,289.83 C126.22,289.81 127.11,289.80 128.00,289.80 C128.76,289.80 129.51,289.81 130.27,289.83 C131.02,289.85 131.78,289.88 132.53,289.92 C133.29,289.96 134.04,290.00 134.80,290.06 C135.56,290.12 136.31,290.18 137.07,290.25 C137.82,290.32 138.58,290.40 139.33,290.47 C140.09,290.55 140.84,290.70 141.60,290.70 C151.73,290.70 161.87,290.70 172.00,290.70 C172.87,290.70 173.73,290.70 174.60,290.70 C175.03,290.70 175.45,290.58 175.88,290.52 C176.31,290.46 176.74,290.40 177.17,290.35 C177.60,290.30 178.02,290.25 178.45,290.21 C178.88,290.17 179.30,290.12 179.73,290.09 C180.16,290.06 180.59,290.04 181.02,290.02 C181.45,290.01 181.87,290.00 182.30,290.00 C182.64,290.00 182.99,290.01 183.33,290.02 C183.68,290.04 184.02,290.06 184.37,290.09 C184.71,290.12 185.06,290.17 185.40,290.21 C185.74,290.25 186.09,290.30 186.43,290.35 C186.78,290.40 187.12,290.46 187.47,290.52 C187.81,290.58 188.16,290.70 188.50,290.70 C194.33,290.70 200.17,290.70 206.00,290.70 C219.00,290.70 232.00,290.70 245.00,290.70 C248.67,290.70 252.33,287.13 256.00,286.00 C259.50,284.92 263.00,284.00 266.50,284.00 C269.20,284.00 271.90,287.00 274.60,287.00 C277.30,287.00 280.00,283.60 282.70,283.60 C285.47,283.60 288.23,287.20 291.00,287.20 C294.00,287.20 297.00,286.86 300.00,286.80 C304.37,286.72 308.73,286.79 313.10,286.40 C316.03,286.14 318.97,284.54 321.90,283.50 C324.80,282.47 327.70,281.03 330.60,280.20 C333.53,279.36 336.47,278.95 339.40,278.50 C343.77,277.83 348.13,278.34 352.50,277.00 C354.70,276.32 356.90,275.74 359.10,273.70 C361.27,271.69 363.43,267.75 365.60,264.90 C368.17,261.53 370.73,255.10 373.30,255.10 C374.73,255.10 376.17,256.45 377.60,259.50 C379.07,262.62 380.53,269.29 382.00,273.70 C383.83,279.21 385.67,285.74 387.50,289.00 C388.23,290.30 388.97,290.70 389.70,290.70 C401.47,290.70 413.23,290.68 425.00,290.60 C426.93,290.59 428.87,290.60 430.80,290.20 C432.70,289.81 434.60,288.53 436.50,287.70 C438.43,286.86 440.37,285.20 442.30,285.20 C444.23,285.20 446.17,285.76 448.10,286.00 C449.63,286.19 451.17,286.50 452.70,286.50 C454.23,286.50 455.77,285.60 457.30,285.40 C458.83,285.20 460.37,285.20 461.90,285.20 C463.07,285.20 464.23,286.00 465.40,286.00 C466.93,286.00 468.47,285.57 470.00,285.40 C474.37,284.92 478.73,284.20 483.10,284.20 C486.03,284.20 488.97,286.91 491.90,287.90 C495.53,289.13 499.17,290.70 502.80,290.70 C504.60,290.70 506.40,290.70 508.20,290.70" fill="none" stroke="#2a22cc" stroke-width="1.65" stroke-linejoin="round"/>
<path d="M84.60,290.70 C88.07,290.70 91.53,290.70 95.00,290.70 C100.67,290.70 106.33,290.70 112.00,290.70 C112.89,290.70 113.78,290.85 114.67,290.93 C115.56,291.00 116.44,291.08 117.33,291.15 C118.22,291.22 119.11,291.28 120.00,291.34 C120.89,291.39 121.78,291.44 122.67,291.48 C123.56,291.52 124.44,291.55 125.33,291.57 C126.22,291.59 127.11,291.60 128.00,291.60 C128.76,291.60 129.51,291.59 130.27,291.57 C131.02,291.55 131.78,291.52 132.53,291.48 C133.29,291.44 134.04,291.39 134.80,291.34 C135.56,291.28 136.31,291.22 137.07,291.15 C137.82,291.08 138.58,291.00 139.33,290.93 C140.09,290.85 140.84,290.70 141.60,290.70 C151.73,290.70 161.87,290.70 172.00,290.70 C177.50,290.70 183.00,290.70 188.50,290.70 C188.84,290.70 189.18,290.85 189.52,290.93 C189.86,291.00 190.19,291.08 190.53,291.15 C190.87,291.22 191.21,291.28 191.55,291.34 C191.89,291.39 192.23,291.44 192.57,291.48 C192.91,291.52 193.24,291.55 193.58,291.57 C193.92,291.59 194.26,291.60 194.60,291.60 C195.03,291.60 195.45,291.59 195.88,291.57 C196.31,291.55 196.74,291.52 197.17,291.48 C197.60,291.44 198.02,291.39 198.45,291.34 C198.88,291.28 199.30,291.22 199.73,291.15 C200.16,291.08 200.59,291.01 201.02,290.93 C201.45,290.86 201.87,290.70 202.30,290.70 C203.53,290.70 204.77,290.70 206.00,290.70 C219.00,290.70 232.00,290.70 245.00,290.70 C248.67,290.70 252.33,294.50 256.00,295.60 C259.50,296.65 263.00,297.20 266.50,297.20 C269.20,297.20 271.90,294.60 274.60,294.60 C277.30,294.60 280.00,297.00 282.70,297.00 C285.47,297.00 288.23,294.79 291.00,294.20 C294.00,293.56 297.00,293.40 300.00,293.40 C304.37,293.40 308.73,293.52 313.10,294.50 C316.03,295.16 318.97,297.11 321.90,297.70 C326.27,298.58 330.63,298.14 335.00,298.80 C337.90,299.24 340.80,300.34 343.70,301.00 C347.37,301.83 351.03,303.20 354.70,303.20 C358.33,303.20 361.97,303.20 365.60,303.20 C367.07,303.20 368.53,310.45 370.00,313.00 C371.47,315.55 372.93,318.50 374.40,318.50 C375.47,318.50 376.53,318.50 377.60,317.90 C379.07,317.07 380.53,311.07 382.00,306.50 C383.10,303.07 384.20,294.50 385.30,294.50 C386.03,294.50 386.77,294.50 387.50,294.50 C388.60,294.50 389.70,302.27 390.80,306.50 C392.60,313.42 394.40,328.40 396.20,328.40 C397.67,328.40 399.13,314.53 400.60,308.70 C402.07,302.87 403.53,296.55 405.00,293.40 C406.10,291.04 407.20,290.70 408.30,290.70 C413.87,290.70 419.43,290.70 425.00,290.80 C427.70,290.85 430.40,291.01 433.10,291.70 C435.00,292.19 436.90,292.99 438.80,294.00 C439.97,294.62 441.13,295.76 442.30,296.30 C443.83,297.00 445.37,297.50 446.90,297.50 C448.07,297.50 449.23,297.11 450.40,296.90 C452.33,296.55 454.27,296.09 456.20,295.80 C458.10,295.52 460.00,295.37 461.90,295.20 C464.60,294.96 467.30,294.60 470.00,294.60 C474.37,294.60 478.73,295.50 483.10,295.50 C486.77,295.50 490.43,295.31 494.10,294.50 C497.73,293.70 501.37,290.70 505.00,290.70 C506.07,290.70 507.13,290.70 508.20,290.70" fill="none" stroke="#2a22cc" stroke-width="1.65" stroke-linejoin="round"/>
<line x1="387.5" y1="186.2" x2="387.5" y2="363.6" stroke="#8a8a8a" stroke-width="1.6" stroke-dasharray="2.6 2.3"/>
<rect x="84.6" y="184.2" width="423.9" height="180.4" fill="none" stroke="#111" stroke-width="1.55"/>
<line x1="104.2" y1="364.6" x2="104.2" y2="358.1" stroke="#111" stroke-width="1.5"/>
<line x1="124.4" y1="364.6" x2="124.4" y2="361.1" stroke="#111" stroke-width="1.5"/>
<line x1="144.6" y1="364.6" x2="144.6" y2="358.1" stroke="#111" stroke-width="1.5"/>
<line x1="164.7" y1="364.6" x2="164.7" y2="361.1" stroke="#111" stroke-width="1.5"/>
<line x1="184.9" y1="364.6" x2="184.9" y2="358.1" stroke="#111" stroke-width="1.5"/>
<line x1="205.1" y1="364.6" x2="205.1" y2="361.1" stroke="#111" stroke-width="1.5"/>
<line x1="225.3" y1="364.6" x2="225.3" y2="358.1" stroke="#111" stroke-width="1.5"/>
<line x1="245.5" y1="364.6" x2="245.5" y2="361.1" stroke="#111" stroke-width="1.5"/>
<line x1="265.6" y1="364.6" x2="265.6" y2="358.1" stroke="#111" stroke-width="1.5"/>
<line x1="285.8" y1="364.6" x2="285.8" y2="361.1" stroke="#111" stroke-width="1.5"/>
<line x1="306.0" y1="364.6" x2="306.0" y2="358.1" stroke="#111" stroke-width="1.5"/>
<line x1="326.2" y1="364.6" x2="326.2" y2="361.1" stroke="#111" stroke-width="1.5"/>
<line x1="346.4" y1="364.6" x2="346.4" y2="358.1" stroke="#111" stroke-width="1.5"/>
<line x1="366.5" y1="364.6" x2="366.5" y2="361.1" stroke="#111" stroke-width="1.5"/>
<line x1="386.7" y1="364.6" x2="386.7" y2="358.1" stroke="#111" stroke-width="1.5"/>
<line x1="406.9" y1="364.6" x2="406.9" y2="361.1" stroke="#111" stroke-width="1.5"/>
<line x1="427.1" y1="364.6" x2="427.1" y2="358.1" stroke="#111" stroke-width="1.5"/>
<line x1="447.3" y1="364.6" x2="447.3" y2="361.1" stroke="#111" stroke-width="1.5"/>
<line x1="467.4" y1="364.6" x2="467.4" y2="358.1" stroke="#111" stroke-width="1.5"/>
<line x1="487.6" y1="364.6" x2="487.6" y2="361.1" stroke="#111" stroke-width="1.5"/>
<line x1="84.6" y1="356.5" x2="91.1" y2="356.5" stroke="#111" stroke-width="1.5"/>
<text transform="translate(79.4,363.24) scale(1,1.2)" text-anchor="end" class="tk">-0.8</text>
<line x1="84.6" y1="340.0" x2="88.1" y2="340.0" stroke="#111" stroke-width="1.5"/>
<line x1="84.6" y1="323.6" x2="91.1" y2="323.6" stroke="#111" stroke-width="1.5"/>
<text transform="translate(79.4,330.36) scale(1,1.2)" text-anchor="end" class="tk">-0.4</text>
<line x1="84.6" y1="307.1" x2="88.1" y2="307.1" stroke="#111" stroke-width="1.5"/>
<line x1="84.6" y1="290.7" x2="91.1" y2="290.7" stroke="#111" stroke-width="1.5"/>
<text transform="translate(79.4,297.48) scale(1,1.2)" text-anchor="end" class="tk">0.0</text>
<line x1="84.6" y1="274.3" x2="88.1" y2="274.3" stroke="#111" stroke-width="1.5"/>
<line x1="84.6" y1="257.8" x2="91.1" y2="257.8" stroke="#111" stroke-width="1.5"/>
<text transform="translate(79.4,264.60) scale(1,1.2)" text-anchor="end" class="tk">0.4</text>
<line x1="84.6" y1="241.4" x2="88.1" y2="241.4" stroke="#111" stroke-width="1.5"/>
<line x1="84.6" y1="224.9" x2="91.1" y2="224.9" stroke="#111" stroke-width="1.5"/>
<text transform="translate(79.4,231.72) scale(1,1.2)" text-anchor="end" class="tk">0.8</text>
<line x1="84.6" y1="208.5" x2="88.1" y2="208.5" stroke="#111" stroke-width="1.5"/>
<line x1="84.6" y1="192.1" x2="91.1" y2="192.1" stroke="#111" stroke-width="1.5"/>
<text transform="translate(79.4,198.84) scale(1,1.2)" text-anchor="end" class="tk">1.2</text>
<text x="102.8" y="333" class="pl">(b)</text>
<path d="M85.20,488.20 C88.47,488.20 91.73,488.20 95.00,488.20 C104.50,488.20 114.00,488.20 123.50,488.20 C124.01,488.20 124.52,487.57 125.03,487.27 C125.54,486.97 126.06,486.67 126.57,486.40 C127.08,486.13 127.59,485.87 128.10,485.65 C128.61,485.43 129.12,485.23 129.63,485.08 C130.14,484.92 130.66,484.80 131.17,484.72 C131.68,484.64 132.19,484.60 132.70,484.60 C133.24,484.60 133.79,484.64 134.33,484.72 C134.88,484.80 135.42,484.92 135.97,485.08 C136.51,485.23 137.06,485.43 137.60,485.65 C138.14,485.87 138.69,486.13 139.23,486.40 C139.78,486.67 140.32,486.97 140.87,487.27 C141.41,487.57 141.96,488.20 142.50,488.20 C152.33,488.20 162.17,488.20 172.00,488.20 C196.33,488.20 220.67,488.20 245.00,488.20 C249.33,488.20 253.67,487.34 258.00,486.80 C262.67,486.22 267.33,485.22 272.00,484.80 C275.67,484.47 279.33,484.40 283.00,484.40 C288.67,484.40 294.33,484.40 300.00,484.40 C304.40,484.40 308.80,484.80 313.20,484.80 C316.13,484.80 319.07,482.21 322.00,481.10 C324.20,480.27 326.40,479.68 328.60,478.90 C331.53,477.86 334.47,476.36 337.40,475.60 C342.53,474.27 347.67,474.19 352.80,473.40 C356.47,472.84 360.13,471.60 363.80,471.60 C364.53,471.60 365.27,474.50 366.00,474.50 C368.93,474.50 371.87,474.50 374.80,474.50 C376.27,474.50 377.73,476.15 379.20,477.80 C380.67,479.45 382.13,482.75 383.60,484.40 C385.07,486.05 386.53,486.95 388.00,487.70 C388.73,488.07 389.47,488.30 390.20,488.30 C402.80,488.30 415.40,488.23 428.00,488.20 C429.70,488.20 431.40,488.20 433.10,488.10 C434.63,488.01 436.17,487.72 437.70,486.30 C438.87,485.22 440.03,483.65 441.20,481.20 C442.33,478.82 443.47,474.64 444.60,471.90 C445.97,468.60 447.33,463.30 448.70,463.30 C449.83,463.30 450.97,467.30 452.10,467.30 C453.27,467.30 454.43,466.26 455.60,462.70 C456.57,459.75 457.53,454.10 458.50,448.80 C459.43,443.68 460.37,437.36 461.30,431.50 C461.90,427.73 462.50,422.60 463.10,420.00 C463.33,418.99 463.57,418.40 463.80,418.40 C464.53,418.40 465.27,421.70 466.00,421.70 C467.47,421.70 468.93,421.70 470.40,420.60 C471.70,419.63 473.00,400.80 474.30,400.80 C475.57,400.80 476.83,409.98 478.10,418.40 C479.20,425.71 480.30,442.49 481.40,447.00 C483.23,454.51 485.07,453.00 486.90,454.70 C489.83,457.42 492.77,457.45 495.70,462.40 C497.17,464.88 498.63,469.55 500.10,473.40 C501.57,477.25 503.03,482.86 504.50,485.50 C505.60,487.48 506.70,488.30 507.80,488.30 C508.03,488.30 508.27,488.23 508.50,488.20" fill="none" stroke="#161616" stroke-width="1.4" stroke-linejoin="round"/>
<path d="M85.20,488.20 C88.47,488.20 91.73,488.20 95.00,488.20 C104.50,488.20 114.00,488.20 123.50,488.20 C124.01,488.20 124.52,488.78 125.03,489.05 C125.54,489.33 126.06,489.60 126.57,489.85 C127.08,490.10 127.59,490.33 128.10,490.53 C128.61,490.73 129.12,490.92 129.63,491.06 C130.14,491.20 130.66,491.32 131.17,491.39 C131.68,491.46 132.19,491.50 132.70,491.50 C133.24,491.50 133.79,491.46 134.33,491.39 C134.88,491.32 135.42,491.20 135.97,491.06 C136.51,490.92 137.06,490.73 137.60,490.53 C138.14,490.33 138.69,490.10 139.23,489.85 C139.78,489.60 140.32,489.33 140.87,489.05 C141.41,488.78 141.96,488.20 142.50,488.20 C152.33,488.20 162.17,488.20 172.00,488.20 C196.33,488.20 220.67,488.20 245.00,488.20 C249.33,488.20 253.67,489.06 258.00,489.60 C262.67,490.18 267.33,491.18 272.00,491.60 C275.67,491.93 279.33,492.00 283.00,492.00 C288.67,492.00 294.33,492.00 300.00,491.80 C300.02,491.80 300.03,491.00 300.05,491.00 C304.43,491.00 308.82,491.09 313.20,492.10 C316.13,492.77 319.07,494.64 322.00,495.40 C327.13,496.73 332.27,496.87 337.40,497.60 C342.53,498.33 347.67,499.22 352.80,499.80 C357.20,500.30 361.60,500.90 366.00,500.90 C368.20,500.90 370.40,499.80 372.60,499.80 C374.43,499.80 376.27,502.00 378.10,502.00 C379.57,502.00 381.03,499.36 382.50,497.60 C384.33,495.40 386.17,491.85 388.00,489.90 C388.73,489.12 389.47,488.30 390.20,488.30 C403.47,488.30 416.73,488.30 430.00,488.30 C432.17,488.30 434.33,488.52 436.50,489.20 C438.07,489.69 439.63,490.03 441.20,491.50 C442.33,492.56 443.47,494.87 444.60,496.20 C445.77,497.57 446.93,499.60 448.10,499.60 C449.63,499.60 451.17,497.99 452.70,497.30 C454.63,496.43 456.57,495.00 458.50,495.00 C459.63,495.00 460.77,495.65 461.90,498.50 C462.67,500.43 463.43,502.23 464.20,507.70 C464.80,511.98 465.40,521.73 466.00,526.20 C467.10,534.40 468.20,535.65 469.30,541.50 C469.67,543.45 470.03,548.10 470.40,548.10 C471.50,548.10 472.60,534.90 473.70,534.90 C474.80,534.90 475.90,537.10 477.00,537.10 C478.83,537.10 480.67,533.13 482.50,531.60 C483.60,530.68 484.70,529.40 485.80,529.40 C486.90,529.40 488.00,532.70 489.10,532.70 C490.20,532.70 491.30,532.50 492.40,530.50 C493.87,527.83 495.33,521.78 496.80,517.40 C498.63,511.92 500.47,505.94 502.30,500.90 C503.77,496.87 505.23,492.80 506.70,489.90 C507.07,489.17 507.43,488.45 507.80,488.30 C508.03,488.20 508.27,488.22 508.50,488.20" fill="none" stroke="#161616" stroke-width="1.4" stroke-linejoin="round"/>
<path d="M85.20,488.20 C88.47,488.20 91.73,488.20 95.00,488.20 C97.17,488.20 99.33,488.20 101.50,488.20 C102.64,488.20 103.78,487.54 104.92,487.22 C106.06,486.90 107.19,486.58 108.33,486.30 C109.47,486.01 110.61,485.74 111.75,485.51 C112.89,485.28 114.03,485.07 115.17,484.91 C116.31,484.75 117.44,484.61 118.58,484.53 C119.72,484.44 120.86,484.40 122.00,484.40 C122.42,484.40 122.83,484.44 123.25,484.53 C123.67,484.62 124.08,484.75 124.50,484.91 C124.92,485.07 125.33,485.28 125.75,485.51 C126.17,485.74 126.58,486.01 127.00,486.30 C127.42,486.59 127.83,486.90 128.25,487.22 C128.67,487.54 129.08,488.20 129.50,488.20 C143.67,488.20 157.83,488.20 172.00,488.20 C196.80,488.20 221.60,488.20 246.40,488.20 C249.53,488.20 252.67,484.40 255.80,484.40 C258.50,484.40 261.20,488.20 263.90,488.20 C266.60,488.20 269.30,486.56 272.00,486.00 C275.67,485.24 279.33,484.40 283.00,484.40 C288.67,484.40 294.33,484.40 300.00,484.40 C304.40,484.40 308.80,484.80 313.20,484.80 C316.13,484.80 319.07,477.80 322.00,477.80 C324.20,477.80 326.40,478.90 328.60,478.90 C331.53,478.90 334.47,476.53 337.40,475.60 C342.53,473.97 347.67,471.60 352.80,471.60 C356.47,471.60 360.13,471.60 363.80,473.40 C366.00,474.48 368.20,477.53 370.40,480.00 C371.87,481.65 373.33,483.96 374.80,485.50 C375.90,486.65 377.00,488.30 378.10,488.30 C390.73,488.30 403.37,488.23 416.00,488.20 C417.83,488.20 419.67,488.20 421.50,488.10 C423.43,487.99 425.37,488.01 427.30,486.30 C428.47,485.27 429.63,483.83 430.80,481.20 C431.93,478.64 433.07,473.32 434.20,470.80 C435.73,467.39 437.27,464.40 438.80,464.40 C440.37,464.40 441.93,467.30 443.50,467.30 C444.63,467.30 445.77,465.60 446.90,461.50 C447.67,458.73 448.43,453.80 449.20,448.80 C449.97,443.80 450.73,436.83 451.50,431.50 C452.10,427.33 452.70,420.00 453.30,420.00 C454.60,420.00 455.90,421.70 457.20,421.70 C458.30,421.70 459.40,419.47 460.50,416.20 C461.73,412.54 462.97,400.40 464.20,400.40 C465.17,400.40 466.13,412.02 467.10,418.40 C468.57,428.09 470.03,444.39 471.50,449.20 C473.33,455.22 475.17,453.09 477.00,455.80 C478.47,457.97 479.93,462.77 481.40,466.80 C482.87,470.83 484.33,476.42 485.80,480.00 C487.27,483.58 488.73,488.30 490.20,488.30 C496.30,488.30 502.40,488.23 508.50,488.20" fill="none" stroke="#d8203a" stroke-width="1.35" stroke-linejoin="round"/>
<path d="M85.20,488.20 C88.47,488.20 91.73,488.20 95.00,488.20 C97.17,488.20 99.33,488.20 101.50,488.20 C102.64,488.20 103.78,488.85 104.92,489.16 C106.06,489.47 107.19,489.77 108.33,490.05 C109.47,490.33 110.61,490.60 111.75,490.82 C112.89,491.04 114.03,491.24 115.17,491.40 C116.31,491.56 117.44,491.69 118.58,491.77 C119.72,491.85 120.86,491.90 122.00,491.90 C122.42,491.90 122.83,491.85 123.25,491.77 C123.67,491.69 124.08,491.56 124.50,491.40 C124.92,491.24 125.33,491.04 125.75,490.82 C126.17,490.60 126.58,490.33 127.00,490.05 C127.42,489.77 127.83,489.47 128.25,489.16 C128.67,488.85 129.08,488.20 129.50,488.20 C143.67,488.20 157.83,488.20 172.00,488.20 C196.80,488.20 221.60,488.20 246.40,488.20 C249.53,488.20 252.67,492.00 255.80,492.00 C258.50,492.00 261.20,488.20 263.90,488.20 C266.60,488.20 269.30,490.05 272.00,490.60 C275.67,491.34 279.33,491.67 283.00,491.80 C288.67,492.00 294.33,492.00 300.00,492.00 C300.02,492.00 300.03,491.00 300.05,491.00 C304.43,491.00 308.82,491.00 313.20,492.10 C316.13,492.84 319.07,497.60 322.00,497.60 C327.13,497.60 332.27,497.60 337.40,497.60 C342.53,497.60 347.67,503.10 352.80,503.10 C356.47,503.10 360.13,502.49 363.80,500.90 C366.00,499.95 368.20,498.55 370.40,496.50 C372.23,494.79 374.07,491.67 375.90,489.90 C376.63,489.19 377.37,488.30 378.10,488.30 C392.07,488.30 406.03,488.30 420.00,488.30 C422.43,488.30 424.87,488.96 427.30,489.80 C428.47,490.20 429.63,490.53 430.80,491.50 C432.13,492.61 433.47,494.85 434.80,496.20 C436.13,497.55 437.47,499.60 438.80,499.60 C440.37,499.60 441.93,497.92 443.50,497.30 C445.40,496.55 447.30,495.60 449.20,495.60 C450.37,495.60 451.53,495.60 452.70,499.60 C453.27,501.54 453.83,505.52 454.40,510.00 C455.33,517.37 456.27,531.53 457.20,537.10 C458.50,544.86 459.80,545.90 461.10,545.90 C462.37,545.90 463.63,536.00 464.90,536.00 C466.00,536.00 467.10,537.10 468.20,537.10 C469.67,537.10 471.13,531.89 472.60,530.50 C474.43,528.76 476.27,529.07 478.10,528.30 C479.57,527.68 481.03,528.24 482.50,525.10 C483.60,522.75 484.70,514.28 485.80,508.60 C486.90,502.92 488.00,493.19 489.10,491.00 C490.20,488.81 491.30,488.92 492.40,488.80 C497.77,488.21 503.13,488.29 508.50,488.20" fill="none" stroke="#d8203a" stroke-width="1.35" stroke-linejoin="round"/>
<path d="M85.20,488.20 C88.47,488.20 91.73,488.20 95.00,488.20 C101.67,488.20 108.33,488.20 115.00,488.20 C116.11,488.20 117.22,488.08 118.33,488.02 C119.44,487.96 120.56,487.90 121.67,487.85 C122.78,487.80 123.89,487.75 125.00,487.71 C126.11,487.67 127.22,487.62 128.33,487.59 C129.44,487.56 130.56,487.54 131.67,487.52 C132.78,487.51 133.89,487.50 135.00,487.50 C135.44,487.50 135.89,487.51 136.33,487.52 C136.78,487.54 137.22,487.56 137.67,487.59 C138.11,487.62 138.56,487.67 139.00,487.71 C139.44,487.75 139.89,487.80 140.33,487.85 C140.78,487.90 141.22,487.96 141.67,488.02 C142.11,488.08 142.56,488.20 143.00,488.20 C152.67,488.20 162.33,488.20 172.00,488.20 C200.83,488.20 229.67,488.20 258.50,488.20 C260.67,488.20 262.83,484.83 265.00,483.60 C267.33,482.27 269.67,480.60 272.00,480.60 C274.00,480.60 276.00,481.63 278.00,482.40 C279.57,483.00 281.13,484.60 282.70,484.60 C288.47,484.60 294.23,484.40 300.00,484.40 C304.40,484.40 308.80,485.50 313.20,485.50 C316.13,485.50 319.07,482.96 322.00,482.20 C327.13,480.87 332.27,480.79 337.40,480.00 C339.60,479.66 341.80,478.90 344.00,478.90 C346.93,478.90 349.87,480.00 352.80,480.00 C357.20,480.00 361.60,480.00 366.00,475.60 C367.47,474.13 368.93,468.78 370.40,464.60 C372.23,459.38 374.07,451.08 375.90,447.00 C377.37,443.74 378.83,441.50 380.30,441.50 C381.23,441.50 382.17,441.50 383.10,443.70 C384.37,446.69 385.63,455.48 386.90,462.40 C388.00,468.41 389.10,477.88 390.20,482.20 C391.30,486.52 392.40,488.30 393.50,488.30 C403.00,488.30 412.50,487.91 422.00,487.70 C429.33,487.54 436.67,487.20 444.00,487.20 C451.33,487.20 458.67,487.70 466.00,487.70 C470.40,487.70 474.80,487.66 479.20,486.60 C481.03,486.16 482.87,485.38 484.70,484.40 C485.80,483.81 486.90,482.20 488.00,482.20 C490.20,482.20 492.40,483.62 494.60,484.40 C497.53,485.44 500.47,486.95 503.40,487.70 C504.87,488.07 506.33,488.30 507.80,488.30 C508.03,488.30 508.27,488.23 508.50,488.20" fill="none" stroke="#2a22cc" stroke-width="1.65" stroke-linejoin="round"/>
<path d="M85.20,488.20 C88.47,488.20 91.73,488.20 95.00,488.20 C101.67,488.20 108.33,488.20 115.00,488.20 C116.11,488.20 117.22,488.32 118.33,488.38 C119.44,488.44 120.56,488.50 121.67,488.55 C122.78,488.60 123.89,488.65 125.00,488.69 C126.11,488.73 127.22,488.78 128.33,488.81 C129.44,488.84 130.56,488.86 131.67,488.88 C132.78,488.89 133.89,488.90 135.00,488.90 C135.44,488.90 135.89,488.89 136.33,488.88 C136.78,488.86 137.22,488.84 137.67,488.81 C138.11,488.78 138.56,488.73 139.00,488.69 C139.44,488.65 139.89,488.60 140.33,488.55 C140.78,488.50 141.22,488.44 141.67,488.38 C142.11,488.32 142.56,488.20 143.00,488.20 C152.67,488.20 162.33,488.20 172.00,488.20 C200.83,488.20 229.67,488.20 258.50,488.20 C260.67,488.20 262.83,491.24 265.00,492.40 C267.33,493.65 269.67,495.40 272.00,495.40 C274.00,495.40 276.00,494.91 278.00,494.20 C279.57,493.64 281.13,491.80 282.70,491.80 C288.47,491.80 294.23,492.00 300.00,492.00 C300.02,492.00 300.03,491.00 300.05,491.00 C304.43,491.00 308.82,491.37 313.20,492.10 C316.13,492.59 319.07,493.72 322.00,494.30 C327.13,495.31 332.27,496.50 337.40,496.50 C339.60,496.50 341.80,496.50 344.00,496.50 C350.60,496.50 357.20,498.33 363.80,502.00 C366.00,503.22 368.20,503.72 370.40,507.50 C372.23,510.65 374.07,517.85 375.90,521.80 C376.83,523.81 377.77,526.60 378.70,526.60 C379.97,526.60 381.23,526.60 382.50,526.20 C383.23,525.97 383.97,519.60 384.70,517.40 C385.43,515.20 386.17,513.00 386.90,513.00 C387.63,513.00 388.37,518.50 389.10,518.50 C390.20,518.50 391.30,517.67 392.40,515.20 C393.87,511.90 395.33,504.20 396.80,499.80 C398.27,495.40 399.73,489.80 401.20,488.80 C401.93,488.30 402.67,488.30 403.40,488.30 C409.60,488.30 415.80,488.89 422.00,489.20 C429.33,489.56 436.67,490.30 444.00,490.30 C451.33,490.30 458.67,489.90 466.00,489.90 C470.40,489.90 474.80,490.27 479.20,491.00 C482.13,491.49 485.07,493.20 488.00,493.20 C490.93,493.20 493.87,492.79 496.80,492.10 C500.47,491.24 504.13,489.20 507.80,488.30 C508.03,488.24 508.27,488.23 508.50,488.20" fill="none" stroke="#2a22cc" stroke-width="1.65" stroke-linejoin="round"/>
<line x1="387.5" y1="383.9" x2="387.5" y2="560.8" stroke="#8a8a8a" stroke-width="1.6" stroke-dasharray="2.6 2.3"/>
<rect x="85.2" y="381.9" width="423.3" height="179.9" fill="none" stroke="#111" stroke-width="1.55"/>
<line x1="104.9" y1="561.8" x2="104.9" y2="555.3" stroke="#111" stroke-width="1.5"/>
<line x1="125.1" y1="561.8" x2="125.1" y2="558.3" stroke="#111" stroke-width="1.5"/>
<line x1="145.3" y1="561.8" x2="145.3" y2="555.3" stroke="#111" stroke-width="1.5"/>
<line x1="165.5" y1="561.8" x2="165.5" y2="558.3" stroke="#111" stroke-width="1.5"/>
<line x1="185.7" y1="561.8" x2="185.7" y2="555.3" stroke="#111" stroke-width="1.5"/>
<line x1="205.9" y1="561.8" x2="205.9" y2="558.3" stroke="#111" stroke-width="1.5"/>
<line x1="226.1" y1="561.8" x2="226.1" y2="555.3" stroke="#111" stroke-width="1.5"/>
<line x1="246.3" y1="561.8" x2="246.3" y2="558.3" stroke="#111" stroke-width="1.5"/>
<line x1="266.5" y1="561.8" x2="266.5" y2="555.3" stroke="#111" stroke-width="1.5"/>
<line x1="286.7" y1="561.8" x2="286.7" y2="558.3" stroke="#111" stroke-width="1.5"/>
<line x1="306.9" y1="561.8" x2="306.9" y2="555.3" stroke="#111" stroke-width="1.5"/>
<line x1="327.1" y1="561.8" x2="327.1" y2="558.3" stroke="#111" stroke-width="1.5"/>
<line x1="347.3" y1="561.8" x2="347.3" y2="555.3" stroke="#111" stroke-width="1.5"/>
<line x1="367.5" y1="561.8" x2="367.5" y2="558.3" stroke="#111" stroke-width="1.5"/>
<line x1="387.7" y1="561.8" x2="387.7" y2="555.3" stroke="#111" stroke-width="1.5"/>
<line x1="407.9" y1="561.8" x2="407.9" y2="558.3" stroke="#111" stroke-width="1.5"/>
<line x1="428.1" y1="561.8" x2="428.1" y2="555.3" stroke="#111" stroke-width="1.5"/>
<line x1="448.3" y1="561.8" x2="448.3" y2="558.3" stroke="#111" stroke-width="1.5"/>
<line x1="468.5" y1="561.8" x2="468.5" y2="555.3" stroke="#111" stroke-width="1.5"/>
<line x1="488.7" y1="561.8" x2="488.7" y2="558.3" stroke="#111" stroke-width="1.5"/>
<line x1="85.2" y1="553.9" x2="91.7" y2="553.9" stroke="#111" stroke-width="1.5"/>
<text transform="translate(80.0,560.44) scale(1,1.16)" text-anchor="end" class="tk">-0.8</text>
<line x1="85.2" y1="537.5" x2="88.7" y2="537.5" stroke="#111" stroke-width="1.5"/>
<line x1="85.2" y1="521.1" x2="91.7" y2="521.1" stroke="#111" stroke-width="1.5"/>
<text transform="translate(80.0,527.58) scale(1,1.16)" text-anchor="end" class="tk">-0.4</text>
<line x1="85.2" y1="504.6" x2="88.7" y2="504.6" stroke="#111" stroke-width="1.5"/>
<line x1="85.2" y1="488.2" x2="91.7" y2="488.2" stroke="#111" stroke-width="1.5"/>
<text transform="translate(80.0,494.72) scale(1,1.16)" text-anchor="end" class="tk">0.0</text>
<line x1="85.2" y1="471.8" x2="88.7" y2="471.8" stroke="#111" stroke-width="1.5"/>
<line x1="85.2" y1="455.3" x2="91.7" y2="455.3" stroke="#111" stroke-width="1.5"/>
<text transform="translate(80.0,461.86) scale(1,1.16)" text-anchor="end" class="tk">0.4</text>
<line x1="85.2" y1="438.9" x2="88.7" y2="438.9" stroke="#111" stroke-width="1.5"/>
<line x1="85.2" y1="422.5" x2="91.7" y2="422.5" stroke="#111" stroke-width="1.5"/>
<text transform="translate(80.0,429.00) scale(1,1.16)" text-anchor="end" class="tk">0.8</text>
<line x1="85.2" y1="406.0" x2="88.7" y2="406.0" stroke="#111" stroke-width="1.5"/>
<line x1="85.2" y1="389.6" x2="91.7" y2="389.6" stroke="#111" stroke-width="1.5"/>
<text transform="translate(80.0,396.14) scale(1,1.16)" text-anchor="end" class="tk">1.2</text>
<text x="105.5" y="531.6" class="pl">(c)</text>
<path d="M86.00,683.60 C89.00,683.60 92.00,683.60 95.00,683.60 C106.40,683.60 117.80,683.60 129.20,683.60 C129.65,683.60 130.10,683.00 130.55,682.72 C131.00,682.44 131.45,682.15 131.90,681.90 C132.35,681.65 132.80,681.41 133.25,681.20 C133.70,680.99 134.15,680.81 134.60,680.66 C135.05,680.51 135.50,680.40 135.95,680.32 C136.40,680.24 136.85,680.20 137.30,680.20 C137.75,680.20 138.20,680.24 138.65,680.32 C139.10,680.40 139.55,680.51 140.00,680.66 C140.45,680.81 140.90,680.99 141.35,681.20 C141.80,681.41 142.25,681.65 142.70,681.90 C143.15,682.15 143.60,682.44 144.05,682.72 C144.50,683.00 144.95,683.60 145.40,683.60 C154.27,683.60 163.13,683.60 172.00,683.60 C197.00,683.60 222.00,683.60 247.00,683.60 C250.83,683.60 254.67,681.60 258.50,681.60 C261.67,681.60 264.83,682.40 268.00,682.40 C270.33,682.40 272.67,680.91 275.00,680.80 C279.33,680.60 283.67,680.63 288.00,680.60 C292.00,680.58 296.00,680.47 300.00,680.40 C304.27,680.33 308.53,680.39 312.80,679.90 C317.03,679.41 321.27,677.09 325.50,675.70 C327.63,675.00 329.77,674.23 331.90,673.60 C334.73,672.77 337.57,671.97 340.40,671.40 C345.37,670.41 350.33,669.91 355.30,669.30 C358.83,668.87 362.37,668.20 365.90,668.20 C368.03,668.20 370.17,671.40 372.30,671.40 C373.70,671.40 375.10,670.40 376.50,670.40 C378.30,670.40 380.10,670.40 381.90,670.40 C383.67,670.40 385.43,673.70 387.20,675.70 C388.60,677.28 390.00,679.66 391.40,681.00 C392.83,682.37 394.27,683.80 395.70,683.80 C407.13,683.80 418.57,683.80 430.00,683.60 C432.17,683.56 434.33,683.33 436.50,682.90 C438.43,682.51 440.37,682.70 442.30,681.20 C443.83,680.01 445.37,678.30 446.90,675.40 C448.43,672.50 449.97,666.03 451.50,663.80 C452.67,662.10 453.83,662.10 455.00,662.10 C456.17,662.10 457.33,665.00 458.50,665.00 C459.63,665.00 460.77,662.95 461.90,658.10 C462.67,654.82 463.43,647.92 464.20,643.10 C464.97,638.28 465.73,633.48 466.50,629.20 C467.10,625.85 467.70,622.82 468.30,620.00 C468.77,617.81 469.23,614.00 469.70,614.00 C470.93,614.00 472.17,619.30 473.40,619.30 C474.60,619.30 475.80,619.30 477.00,617.20 C478.27,614.98 479.53,601.30 480.80,601.30 C481.87,601.30 482.93,610.12 484.00,616.10 C485.40,623.95 486.80,638.42 488.20,643.80 C489.27,647.90 490.33,647.09 491.40,648.00 C492.93,649.30 494.47,648.69 496.00,650.00 C496.60,650.51 497.20,651.47 497.80,652.30 C499.23,654.28 500.67,656.80 502.10,658.70 C502.30,658.97 502.50,659.06 502.70,659.40 C504.50,662.47 506.30,666.89 508.10,671.50 C509.50,675.09 510.90,679.57 512.30,683.60" fill="none" stroke="#161616" stroke-width="1.4" stroke-linejoin="round"/>
<path d="M86.00,683.60 C89.00,683.60 92.00,683.60 95.00,683.60 C106.40,683.60 117.80,683.60 129.20,683.60 C129.65,683.60 130.10,684.18 130.55,684.45 C131.00,684.73 131.45,685.00 131.90,685.25 C132.35,685.50 132.80,685.73 133.25,685.93 C133.70,686.13 134.15,686.32 134.60,686.46 C135.05,686.60 135.50,686.72 135.95,686.79 C136.40,686.86 136.85,686.90 137.30,686.90 C137.75,686.90 138.20,686.86 138.65,686.79 C139.10,686.72 139.55,686.60 140.00,686.46 C140.45,686.32 140.90,686.13 141.35,685.93 C141.80,685.73 142.25,685.50 142.70,685.25 C143.15,685.00 143.60,684.73 144.05,684.45 C144.50,684.18 144.95,683.60 145.40,683.60 C154.27,683.60 163.13,683.60 172.00,683.60 C197.00,683.60 222.00,683.60 247.00,683.60 C250.83,683.60 254.67,685.60 258.50,685.60 C261.67,685.60 264.83,685.20 268.00,685.20 C270.33,685.20 272.67,686.49 275.00,686.60 C279.33,686.80 283.67,686.80 288.00,686.80 C292.00,686.80 296.00,686.80 300.00,686.40 C300.02,686.40 300.03,686.30 300.05,686.30 C304.30,686.30 308.55,686.87 312.80,687.40 C317.03,687.93 321.27,688.75 325.50,689.50 C331.17,690.50 336.83,691.77 342.50,692.70 C347.47,693.52 352.43,694.19 357.40,694.80 C360.93,695.23 364.47,695.90 368.00,695.90 C369.80,695.90 371.60,694.80 373.40,694.80 C375.17,694.80 376.93,695.90 378.70,695.90 C380.47,695.90 382.23,695.90 384.00,695.90 C385.77,695.90 387.53,691.43 389.30,689.50 C390.73,687.93 392.17,686.51 393.60,685.30 C394.30,684.71 395.00,683.81 395.70,683.80 C407.80,683.70 419.90,683.70 432.00,683.70 C434.27,683.70 436.53,683.70 438.80,684.00 C440.73,684.26 442.67,684.66 444.60,685.80 C446.13,686.70 447.67,688.47 449.20,689.80 C450.73,691.13 452.27,693.80 453.80,693.80 C455.37,693.80 456.93,692.07 458.50,691.50 C460.03,690.94 461.57,690.40 463.10,690.40 C464.23,690.40 465.37,691.84 466.50,692.70 C467.67,693.59 468.83,692.76 470.00,699.60 C470.07,699.99 470.13,702.35 470.20,703.30 C470.90,713.33 471.60,719.28 472.30,724.60 C473.00,729.92 473.70,732.72 474.40,735.20 C475.27,738.27 476.13,740.50 477.00,740.50 C478.27,740.50 479.53,726.70 480.80,726.70 C482.23,726.70 483.67,727.80 485.10,727.80 C486.50,727.80 487.90,723.50 489.30,723.50 C490.73,723.50 492.17,724.06 493.60,724.60 C495.00,725.13 496.40,726.70 497.80,726.70 C498.57,726.70 499.33,726.30 500.10,726.30 C500.40,726.30 500.70,727.80 501.00,727.80 C501.57,727.80 502.13,719.82 502.70,717.00 C504.07,710.19 505.43,706.98 506.80,702.20 C508.63,695.79 510.47,689.80 512.30,683.60" fill="none" stroke="#161616" stroke-width="1.4" stroke-linejoin="round"/>
<path d="M86.00,683.60 C89.00,683.60 92.00,683.60 95.00,683.60 C97.17,683.60 99.33,683.60 101.50,683.60 C102.72,683.60 103.95,683.03 105.17,682.75 C106.39,682.48 107.61,682.20 108.83,681.95 C110.05,681.70 111.28,681.47 112.50,681.27 C113.72,681.07 114.95,680.88 116.17,680.74 C117.39,680.60 118.61,680.48 119.83,680.41 C121.05,680.34 122.28,680.30 123.50,680.30 C123.85,680.30 124.20,680.34 124.55,680.41 C124.90,680.48 125.25,680.60 125.60,680.74 C125.95,680.88 126.30,681.07 126.65,681.27 C127.00,681.47 127.35,681.70 127.70,681.95 C128.05,682.20 128.40,682.48 128.75,682.75 C129.10,683.02 129.45,683.60 129.80,683.60 C143.87,683.60 157.93,683.60 172.00,683.60 C197.23,683.60 222.47,683.60 247.70,683.60 C251.30,683.60 254.90,679.40 258.50,679.40 C261.17,679.40 263.83,683.60 266.50,683.60 C270.00,683.60 273.50,680.72 277.00,680.40 C281.33,680.00 285.67,680.00 290.00,680.00 C293.33,680.00 296.67,680.40 300.00,680.40 C304.27,680.40 308.53,680.40 312.80,679.90 C317.03,679.40 321.27,672.50 325.50,672.50 C327.63,672.50 329.77,673.60 331.90,673.60 C334.73,673.60 337.57,672.20 340.40,671.40 C345.37,669.99 350.33,666.80 355.30,666.80 C357.43,666.80 359.57,668.60 361.70,669.30 C363.80,669.99 365.90,670.02 368.00,671.00 C369.80,671.84 371.60,672.86 373.40,674.60 C374.80,675.95 376.20,678.16 377.60,679.90 C378.67,681.22 379.73,683.80 380.80,683.80 C392.53,683.80 404.27,683.80 416.00,683.60 C418.60,683.56 421.20,683.44 423.80,682.90 C426.13,682.41 428.47,682.85 430.80,680.60 C432.13,679.32 433.47,677.02 434.80,674.20 C435.97,671.73 437.13,667.32 438.30,665.00 C439.43,662.74 440.57,660.40 441.70,660.40 C443.07,660.40 444.43,662.70 445.80,662.70 C446.93,662.70 448.07,660.43 449.20,656.90 C449.97,654.51 450.73,650.73 451.50,646.50 C452.27,642.27 453.03,635.84 453.80,631.50 C454.60,626.97 455.40,625.42 456.20,620.00 C456.47,618.19 456.73,613.00 457.00,613.00 C458.20,613.00 459.40,618.30 460.60,618.30 C462.03,618.30 463.47,616.32 464.90,611.90 C465.93,608.71 466.97,597.40 468.00,597.40 C469.07,597.40 470.13,607.28 471.20,614.00 C472.63,623.03 474.07,642.85 475.50,645.90 C476.90,648.88 478.30,647.93 479.70,649.10 C481.13,650.30 482.57,656.05 484.00,659.70 C485.77,664.19 487.53,669.70 489.30,673.60 C491.07,677.50 492.83,681.94 494.60,683.10 C495.67,683.80 496.73,683.80 497.80,683.80 C502.63,683.80 507.47,683.67 512.30,683.60" fill="none" stroke="#d8203a" stroke-width="1.35" stroke-linejoin="round"/>
<path d="M86.00,683.60 C89.00,683.60 92.00,683.60 95.00,683.60 C97.17,683.60 99.33,683.60 101.50,683.60 C102.72,683.60 103.95,684.25 105.17,684.56 C106.39,684.87 107.61,685.17 108.83,685.45 C110.05,685.73 111.28,686.00 112.50,686.22 C113.72,686.45 114.95,686.64 116.17,686.80 C117.39,686.96 118.61,687.09 119.83,687.17 C121.05,687.25 122.28,687.30 123.50,687.30 C123.85,687.30 124.20,687.25 124.55,687.17 C124.90,687.09 125.25,686.96 125.60,686.80 C125.95,686.64 126.30,686.45 126.65,686.22 C127.00,686.00 127.35,685.73 127.70,685.45 C128.05,685.17 128.40,684.87 128.75,684.56 C129.10,684.25 129.45,683.60 129.80,683.60 C143.87,683.60 157.93,683.60 172.00,683.60 C197.23,683.60 222.47,683.60 247.70,683.60 C251.30,683.60 254.90,687.60 258.50,687.60 C261.17,687.60 263.83,683.60 266.50,683.60 C270.00,683.60 273.50,686.80 277.00,686.80 C281.33,686.80 285.67,686.60 290.00,686.60 C293.33,686.60 296.67,686.60 300.00,686.40 C300.02,686.40 300.03,686.30 300.05,686.30 C304.30,686.30 308.55,686.51 312.80,687.40 C317.03,688.28 321.27,690.93 325.50,691.60 C331.17,692.50 336.83,692.07 342.50,692.70 C347.47,693.26 352.43,695.23 357.40,695.90 C360.93,696.38 364.47,696.50 368.00,696.50 C369.80,696.50 371.60,694.47 373.40,692.70 C374.80,691.32 376.20,689.07 377.60,687.40 C378.67,686.13 379.73,683.81 380.80,683.80 C393.87,683.70 406.93,683.70 420.00,683.70 C422.43,683.70 424.87,683.70 427.30,684.00 C429.23,684.24 431.17,684.30 433.10,685.80 C434.63,686.99 436.17,689.87 437.70,691.50 C439.23,693.13 440.77,695.60 442.30,695.60 C443.83,695.60 445.37,693.57 446.90,692.70 C448.43,691.83 449.97,690.40 451.50,690.40 C452.47,690.40 453.43,690.40 454.40,692.70 C455.00,694.13 455.60,697.83 456.20,700.80 C456.77,703.61 457.33,706.38 457.90,710.00 C458.80,715.75 459.70,725.23 460.60,729.90 C461.67,735.43 462.73,739.50 463.80,739.50 C465.20,739.50 466.60,728.80 468.00,728.80 C469.43,728.80 470.87,729.90 472.30,729.90 C473.37,729.90 474.43,724.06 475.50,723.50 C477.27,722.58 479.03,722.88 480.80,722.50 C482.23,722.19 483.67,722.48 485.10,719.30 C486.50,716.19 487.90,708.73 489.30,703.30 C490.73,697.74 492.17,689.18 493.60,686.30 C494.63,684.22 495.67,684.32 496.70,684.20 C501.90,683.60 507.10,683.67 512.30,683.60" fill="none" stroke="#d8203a" stroke-width="1.35" stroke-linejoin="round"/>
<path d="M86.00,683.60 C89.00,683.60 92.00,683.60 95.00,683.60 C100.00,683.60 105.00,683.60 110.00,683.60 C110.83,683.60 111.67,683.37 112.50,683.26 C113.33,683.15 114.17,683.05 115.00,682.95 C115.83,682.85 116.67,682.76 117.50,682.68 C118.33,682.60 119.17,682.53 120.00,682.47 C120.83,682.41 121.67,682.37 122.50,682.34 C123.33,682.31 124.17,682.30 125.00,682.30 C126.26,682.30 127.52,682.31 128.78,682.34 C130.04,682.37 131.31,682.41 132.57,682.47 C133.83,682.53 135.09,682.60 136.35,682.68 C137.61,682.76 138.87,682.85 140.13,682.95 C141.39,683.05 142.66,683.15 143.92,683.26 C145.18,683.37 146.44,683.60 147.70,683.60 C155.80,683.60 163.90,683.60 172.00,683.60 C204.33,683.60 236.67,683.60 269.00,683.60 C272.00,683.60 275.00,680.23 278.00,679.00 C281.67,677.50 285.33,675.60 289.00,675.60 C291.00,675.60 293.00,675.77 295.00,676.40 C297.17,677.08 299.33,679.06 301.50,679.60 C304.33,680.31 307.17,680.03 310.00,680.40 C310.93,680.52 311.87,681.00 312.80,681.00 C317.03,681.00 321.27,678.90 325.50,678.90 C327.63,678.90 329.77,679.90 331.90,679.90 C339.00,679.90 346.10,677.60 353.20,675.70 C357.43,674.57 361.67,673.79 365.90,671.40 C367.67,670.40 369.43,669.65 371.20,667.20 C372.63,665.22 374.07,661.08 375.50,658.70 C376.57,656.93 377.63,655.18 378.70,654.40 C379.77,653.62 380.83,654.03 381.90,653.40 C384.00,652.17 386.10,647.00 388.20,647.00 C388.93,647.00 389.67,647.96 390.40,650.20 C391.47,653.46 392.53,660.74 393.60,665.10 C395.00,670.83 396.40,676.80 397.80,679.90 C399.23,683.08 400.67,683.80 402.10,683.80 C412.07,683.80 422.03,683.66 432.00,683.60 C434.27,683.59 436.53,683.60 438.80,683.50 C441.90,683.36 445.00,682.80 448.10,682.30 C450.00,681.99 451.90,681.63 453.80,681.20 C455.37,680.85 456.93,680.59 458.50,680.00 C459.63,679.57 460.77,678.87 461.90,678.30 C463.07,677.71 464.23,676.50 465.40,676.50 C466.53,676.50 467.67,677.48 468.80,677.70 C469.20,677.78 469.60,677.71 470.00,678.30 C470.07,678.40 470.13,679.43 470.20,679.50 C472.30,681.60 474.40,681.60 476.50,681.60 C479.37,681.60 482.23,680.87 485.10,680.40 C488.63,679.82 492.17,678.40 495.70,678.40 C497.83,678.40 499.97,680.18 502.10,681.00 C504.70,681.99 507.30,683.80 509.90,683.80 C510.70,683.80 511.50,683.67 512.30,683.60" fill="none" stroke="#2a22cc" stroke-width="1.65" stroke-linejoin="round"/>
<path d="M86.00,683.60 C89.00,683.60 92.00,683.60 95.00,683.60 C100.00,683.60 105.00,683.60 110.00,683.60 C110.83,683.60 111.67,683.87 112.50,683.99 C113.33,684.12 114.17,684.24 115.00,684.35 C115.83,684.46 116.67,684.57 117.50,684.66 C118.33,684.75 119.17,684.84 120.00,684.90 C120.83,684.96 121.67,685.02 122.50,685.05 C123.33,685.08 124.17,685.10 125.00,685.10 C126.26,685.10 127.52,685.08 128.78,685.05 C130.04,685.02 131.31,684.97 132.57,684.90 C133.83,684.84 135.09,684.75 136.35,684.66 C137.61,684.57 138.87,684.46 140.13,684.35 C141.39,684.24 142.66,684.12 143.92,683.99 C145.18,683.87 146.44,683.60 147.70,683.60 C155.80,683.60 163.90,683.60 172.00,683.60 C204.33,683.60 236.67,683.60 269.00,683.60 C272.00,683.60 275.00,687.33 278.00,688.60 C281.67,690.15 285.33,691.80 289.00,691.80 C291.00,691.80 293.00,691.63 295.00,691.00 C297.17,690.32 299.33,688.49 301.50,687.80 C304.33,686.90 307.17,686.60 310.00,686.60 C310.93,686.60 311.87,686.88 312.80,687.00 C317.03,687.54 321.27,687.98 325.50,688.40 C334.00,689.24 342.50,688.91 351.00,690.60 C356.67,691.73 362.33,691.13 368.00,695.90 C369.80,697.41 371.60,700.98 373.40,703.30 C375.17,705.58 376.93,707.96 378.70,709.70 C380.10,711.08 381.50,711.45 382.90,712.90 C384.90,714.98 386.90,720.80 388.90,720.80 C389.73,720.80 390.57,711.24 391.40,707.60 C392.83,701.33 394.27,696.18 395.70,692.70 C397.47,688.41 399.23,687.16 401.00,685.30 C401.70,684.56 402.40,683.81 403.10,683.80 C412.73,683.60 422.37,683.60 432.00,683.60 C434.27,683.60 436.53,683.79 438.80,684.00 C441.90,684.29 445.00,684.54 448.10,685.20 C450.00,685.61 451.90,686.37 453.80,686.90 C455.37,687.33 456.93,687.71 458.50,688.10 C460.03,688.48 461.57,688.70 463.10,689.20 C464.23,689.57 465.37,690.60 466.50,690.60 C467.27,690.60 468.03,689.59 468.80,689.20 C469.20,688.99 469.60,688.99 470.00,688.70 C470.77,688.14 471.53,686.79 472.30,686.30 C473.70,685.40 475.10,685.30 476.50,685.30 C480.77,685.30 485.03,685.33 489.30,686.30 C492.13,686.94 494.97,689.50 497.80,689.50 C499.93,689.50 502.07,688.42 504.20,687.40 C506.10,686.49 508.00,684.26 509.90,683.80 C510.70,683.61 511.50,683.65 512.30,683.60" fill="none" stroke="#2a22cc" stroke-width="1.65" stroke-linejoin="round"/>
<line x1="390.0" y1="582.1" x2="390.0" y2="753.8" stroke="#8a8a8a" stroke-width="1.6" stroke-dasharray="2.6 2.3"/>
<rect x="86.0" y="580.1" width="426.3" height="174.7" fill="none" stroke="#111" stroke-width="1.55"/>
<line x1="105.8" y1="754.8" x2="105.8" y2="748.3" stroke="#111" stroke-width="1.5"/>
<line x1="126.1" y1="754.8" x2="126.1" y2="751.3" stroke="#111" stroke-width="1.5"/>
<line x1="146.5" y1="754.8" x2="146.5" y2="748.3" stroke="#111" stroke-width="1.5"/>
<line x1="166.8" y1="754.8" x2="166.8" y2="751.3" stroke="#111" stroke-width="1.5"/>
<line x1="187.1" y1="754.8" x2="187.1" y2="748.3" stroke="#111" stroke-width="1.5"/>
<line x1="207.4" y1="754.8" x2="207.4" y2="751.3" stroke="#111" stroke-width="1.5"/>
<line x1="227.8" y1="754.8" x2="227.8" y2="748.3" stroke="#111" stroke-width="1.5"/>
<line x1="248.1" y1="754.8" x2="248.1" y2="751.3" stroke="#111" stroke-width="1.5"/>
<line x1="268.4" y1="754.8" x2="268.4" y2="748.3" stroke="#111" stroke-width="1.5"/>
<line x1="288.8" y1="754.8" x2="288.8" y2="751.3" stroke="#111" stroke-width="1.5"/>
<line x1="309.1" y1="754.8" x2="309.1" y2="748.3" stroke="#111" stroke-width="1.5"/>
<line x1="329.4" y1="754.8" x2="329.4" y2="751.3" stroke="#111" stroke-width="1.5"/>
<line x1="349.8" y1="754.8" x2="349.8" y2="748.3" stroke="#111" stroke-width="1.5"/>
<line x1="370.1" y1="754.8" x2="370.1" y2="751.3" stroke="#111" stroke-width="1.5"/>
<line x1="390.4" y1="754.8" x2="390.4" y2="748.3" stroke="#111" stroke-width="1.5"/>
<line x1="410.8" y1="754.8" x2="410.8" y2="751.3" stroke="#111" stroke-width="1.5"/>
<line x1="431.1" y1="754.8" x2="431.1" y2="748.3" stroke="#111" stroke-width="1.5"/>
<line x1="451.4" y1="754.8" x2="451.4" y2="751.3" stroke="#111" stroke-width="1.5"/>
<line x1="471.7" y1="754.8" x2="471.7" y2="748.3" stroke="#111" stroke-width="1.5"/>
<line x1="492.1" y1="754.8" x2="492.1" y2="751.3" stroke="#111" stroke-width="1.5"/>
<line x1="86.0" y1="747.3" x2="92.5" y2="747.3" stroke="#111" stroke-width="1.5"/>
<text transform="translate(80.8,753.46) scale(1,1.1)" text-anchor="end" class="tk">-0.8</text>
<line x1="86.0" y1="731.4" x2="89.5" y2="731.4" stroke="#111" stroke-width="1.5"/>
<line x1="86.0" y1="715.5" x2="92.5" y2="715.5" stroke="#111" stroke-width="1.5"/>
<text transform="translate(80.8,721.60) scale(1,1.1)" text-anchor="end" class="tk">-0.4</text>
<line x1="86.0" y1="699.5" x2="89.5" y2="699.5" stroke="#111" stroke-width="1.5"/>
<line x1="86.0" y1="683.6" x2="92.5" y2="683.6" stroke="#111" stroke-width="1.5"/>
<text transform="translate(80.8,689.74) scale(1,1.1)" text-anchor="end" class="tk">0.0</text>
<line x1="86.0" y1="667.7" x2="89.5" y2="667.7" stroke="#111" stroke-width="1.5"/>
<line x1="86.0" y1="651.7" x2="92.5" y2="651.7" stroke="#111" stroke-width="1.5"/>
<text transform="translate(80.8,657.88) scale(1,1.1)" text-anchor="end" class="tk">0.4</text>
<line x1="86.0" y1="635.8" x2="89.5" y2="635.8" stroke="#111" stroke-width="1.5"/>
<line x1="86.0" y1="619.9" x2="92.5" y2="619.9" stroke="#111" stroke-width="1.5"/>
<text transform="translate(80.8,626.02) scale(1,1.1)" text-anchor="end" class="tk">0.8</text>
<line x1="86.0" y1="604.0" x2="89.5" y2="604.0" stroke="#111" stroke-width="1.5"/>
<line x1="86.0" y1="588.0" x2="92.5" y2="588.0" stroke="#111" stroke-width="1.5"/>
<text transform="translate(80.8,594.16) scale(1,1.1)" text-anchor="end" class="tk">1.2</text>
<text x="104.8" y="728" class="pl">(d)</text>
<text transform="translate(105.8,780.4) scale(1,1.1)" text-anchor="middle" class="tk">-14</text>
<text transform="translate(146.5,780.4) scale(1,1.1)" text-anchor="middle" class="tk">-12</text>
<text transform="translate(187.1,780.4) scale(1,1.1)" text-anchor="middle" class="tk">-10</text>
<text transform="translate(227.8,780.4) scale(1,1.1)" text-anchor="middle" class="tk">-8</text>
<text transform="translate(268.4,780.4) scale(1,1.1)" text-anchor="middle" class="tk">-6</text>
<text transform="translate(309.1,780.4) scale(1,1.1)" text-anchor="middle" class="tk">-4</text>
<text transform="translate(349.8,780.4) scale(1,1.1)" text-anchor="middle" class="tk">-2</text>
<text transform="translate(390.4,780.4) scale(1,1.1)" text-anchor="middle" class="tk">0</text>
<text transform="translate(431.1,780.4) scale(1,1.1)" text-anchor="middle" class="tk">2</text>
<text transform="translate(471.7,780.4) scale(1,1.1)" text-anchor="middle" class="tk">4</text>
<text transform="translate(512.4,780.4) scale(1,1.1)" text-anchor="middle" class="tk">6</text>
<line x1="94.5" y1="22.6" x2="128" y2="22.6" stroke="#222" stroke-width="1.4"/>
<text x="133" y="28.2" class="lg">Gd-5d with C</text>
<line x1="94.5" y1="48.0" x2="128" y2="48.0" stroke="#c8464a" stroke-width="1.4"/>
<text x="133" y="53.6" class="lg">Gd-5d without C</text>
<line x1="94.5" y1="73.4" x2="128" y2="73.4" stroke="#2a2ad0" stroke-width="1.4"/>
<text x="133" y="79.0" class="lg">C-2p</text>
<text x="306.5" y="814.3" text-anchor="middle" class="ax">Energy (eV)</text>
<text transform="translate(23.0,365.5) rotate(-90)" text-anchor="middle" class="ax2">Density of state</text>
</svg>
</body></html>
